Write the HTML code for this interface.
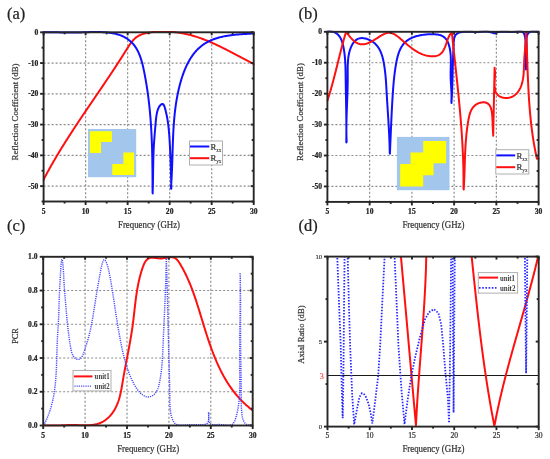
<!DOCTYPE html>
<html><head><meta charset="utf-8"><title>Figure</title>
<style>
html,body{margin:0;padding:0;background:#fff;}
body{width:550px;height:459px;overflow:hidden;}
svg{display:block;font-family:"Liberation Serif","Times New Roman",serif;}
</style></head><body>
<svg width="550" height="459" viewBox="0 0 550 459">
<rect width="550" height="459" fill="#fff"/>
<defs>
<clipPath id="ca"><rect x="42.6" y="31.099999999999998" width="212.1" height="171.39999999999998"/></clipPath>
<clipPath id="cb"><rect x="326.4" y="30.6" width="213.20000000000005" height="172.29999999999998"/></clipPath>
<clipPath id="cc"><rect x="42.2" y="255.60000000000002" width="211.5" height="170.89999999999998"/></clipPath>
<clipPath id="cd"><rect x="327.5" y="256.6" width="211.20000000000005" height="170.0"/></clipPath>
</defs>
<g stroke="#8a8a8a" stroke-width="1.15" stroke-dasharray="2 2"><line x1="85.62" y1="32.3" x2="85.62" y2="201.5"/><line x1="127.64" y1="32.3" x2="127.64" y2="201.5"/><line x1="169.66" y1="32.3" x2="169.66" y2="201.5"/><line x1="211.68" y1="32.3" x2="211.68" y2="201.5"/><line x1="43.6" y1="63.06" x2="253.7" y2="63.06"/><line x1="43.6" y1="93.83" x2="253.7" y2="93.83"/><line x1="43.6" y1="124.59" x2="253.7" y2="124.59"/><line x1="43.6" y1="155.35" x2="253.7" y2="155.35"/><line x1="43.6" y1="186.12" x2="253.7" y2="186.12"/></g>
<g fill="none" stroke-width="2" stroke-linejoin="round" stroke-linecap="round" clip-path="url(#ca)">
<path d="M43.60,180.30 L43.65,179.49 L44.02,178.77 L44.40,178.05 L44.78,177.34 L45.16,176.62 L45.54,175.91 L45.92,175.19 L46.30,174.48 L46.68,173.77 L47.07,173.06 L47.45,172.35 L47.84,171.64 L48.23,170.93 L48.62,170.22 L49.01,169.52 L49.40,168.81 L49.79,168.11 L50.18,167.40 L50.58,166.70 L50.98,166.00 L51.37,165.30 L51.77,164.60 L52.17,163.90 L52.57,163.20 L52.97,162.50 L53.37,161.80 L53.78,161.11 L54.18,160.41 L54.58,159.72 L54.99,159.02 L55.40,158.33 L55.81,157.64 L56.21,156.94 L56.62,156.25 L57.04,155.56 L57.45,154.87 L57.86,154.18 L58.27,153.49 L58.69,152.81 L59.10,152.12 L59.52,151.43 L59.94,150.75 L60.35,150.06 L60.77,149.38 L61.19,148.69 L61.61,148.01 L62.03,147.33 L62.46,146.64 L62.88,145.96 L63.30,145.28 L63.73,144.60 L64.15,143.92 L64.58,143.24 L65.00,142.56 L65.43,141.88 L65.86,141.20 L66.29,140.53 L66.72,139.85 L67.15,139.17 L67.58,138.50 L68.01,137.82 L68.44,137.14 L68.87,136.47 L69.31,135.79 L69.74,135.12 L70.17,134.45 L70.61,133.77 L71.04,133.10 L71.48,132.43 L71.92,131.76 L72.35,131.09 L72.79,130.41 L73.23,129.74 L73.67,129.07 L74.11,128.40 L74.55,127.73 L74.99,127.06 L75.43,126.39 L75.87,125.73 L76.31,125.06 L76.76,124.39 L77.20,123.72 L77.64,123.05 L78.09,122.39 L78.53,121.72 L78.97,121.05 L79.42,120.38 L79.86,119.72 L80.31,119.05 L80.76,118.39 L81.20,117.72 L81.65,117.05 L82.10,116.39 L82.54,115.72 L82.99,115.06 L83.44,114.39 L83.89,113.73 L84.34,113.06 L84.79,112.40 L85.23,111.73 L85.68,111.07 L86.13,110.40 L86.58,109.74 L87.03,109.08 L87.48,108.41 L87.93,107.75 L88.38,107.08 L88.84,106.42 L89.29,105.76 L89.74,105.09 L90.19,104.43 L90.64,103.77 L91.09,103.10 L91.54,102.44 L92.00,101.77 L92.45,101.11 L92.90,100.45 L93.35,99.78 L93.80,99.12 L94.26,98.45 L94.71,97.79 L95.16,97.13 L95.61,96.46 L96.07,95.80 L96.52,95.13 L96.97,94.47 L97.42,93.80 L97.88,93.14 L98.33,92.48 L98.78,91.81 L99.23,91.15 L99.68,90.48 L100.14,89.81 L100.59,89.15 L101.04,88.48 L101.49,87.82 L101.94,87.15 L102.40,86.48 L102.85,85.82 L103.30,85.15 L103.75,84.48 L104.20,83.82 L104.65,83.15 L105.10,82.48 L105.55,81.81 L106.00,81.14 L106.45,80.47 L106.90,79.81 L107.35,79.14 L107.80,78.47 L108.25,77.80 L108.70,77.13 L109.15,76.46 L109.60,75.78 L110.04,75.11 L110.49,74.44 L110.94,73.77 L111.39,73.10 L111.83,72.42 L112.28,71.75 L112.72,71.08 L113.17,70.40 L113.61,69.73 L114.06,69.05 L114.50,68.38 L114.95,67.70 L115.39,67.02 L115.83,66.35 L116.28,65.67 L116.72,64.99 L117.16,64.31 L117.60,63.63 L118.04,62.95 L118.48,62.27 L118.92,61.59 L119.36,60.91 L119.80,60.23 L120.24,59.55 L120.68,58.86 L121.11,58.18 L121.55,57.50 L121.99,56.81 L122.42,56.13 L122.86,55.44 L123.29,54.76 L123.73,54.07 L124.16,53.38 L124.59,52.69 L125.02,52.00 L125.45,51.31 L125.88,50.62 L126.31,49.93 L126.74,49.24 L127.18,48.55 L127.61,47.86 L128.04,47.18 L128.48,46.50 L128.92,45.83 L129.37,45.16 L129.82,44.50 L130.28,43.85 L130.74,43.21 L131.21,42.59 L131.69,41.97 L132.18,41.37 L132.68,40.78 L133.19,40.21 L133.71,39.65 L134.25,39.11 L134.80,38.59 L135.36,38.09 L135.93,37.61 L136.52,37.16 L137.13,36.72 L137.76,36.31 L138.40,35.93 L139.05,35.56 L139.73,35.23 L140.42,34.91 L141.12,34.61 L141.83,34.34 L142.56,34.08 L143.30,33.85 L144.05,33.63 L144.81,33.42 L145.58,33.24 L146.35,33.06 L147.14,32.91 L147.93,32.76 L148.72,32.63 L149.53,32.50 L150.33,32.39 L151.14,32.29 L151.95,32.20 L152.76,32.11 L153.58,32.03 L154.39,31.96 L155.21,31.89 L156.02,31.83 L156.84,31.78 L157.65,31.73 L158.47,31.69 L159.28,31.66 L160.10,31.63 L160.92,31.61 L161.73,31.59 L162.55,31.58 L163.36,31.58 L164.18,31.58 L164.99,31.59 L165.81,31.61 L166.62,31.63 L167.43,31.66 L168.25,31.69 L169.06,31.73 L169.87,31.78 L170.68,31.83 L171.49,31.89 L172.30,31.96 L173.11,32.03 L173.92,32.11 L174.72,32.19 L175.53,32.28 L176.33,32.37 L177.13,32.47 L177.93,32.58 L178.73,32.69 L179.53,32.81 L180.33,32.94 L181.12,33.07 L181.92,33.21 L182.71,33.35 L183.50,33.50 L184.29,33.65 L185.07,33.81 L185.86,33.98 L186.64,34.15 L187.42,34.33 L188.20,34.51 L188.98,34.70 L189.75,34.89 L190.52,35.09 L191.29,35.30 L192.06,35.51 L192.83,35.73 L193.60,35.95 L194.36,36.17 L195.12,36.40 L195.88,36.64 L196.64,36.88 L197.40,37.12 L198.16,37.37 L198.91,37.63 L199.66,37.89 L200.42,38.15 L201.17,38.42 L201.91,38.69 L202.66,38.96 L203.41,39.24 L204.15,39.53 L204.89,39.82 L205.63,40.11 L206.37,40.40 L207.11,40.70 L207.85,41.00 L208.59,41.31 L209.32,41.62 L210.06,41.93 L210.79,42.25 L211.52,42.56 L212.25,42.89 L212.99,43.21 L213.71,43.54 L214.44,43.87 L215.17,44.20 L215.90,44.54 L216.62,44.88 L217.35,45.22 L218.07,45.56 L218.79,45.91 L219.52,46.25 L220.24,46.60 L220.96,46.96 L221.68,47.31 L222.40,47.67 L223.12,48.03 L223.83,48.39 L224.55,48.75 L225.27,49.11 L225.99,49.47 L226.70,49.84 L227.42,50.21 L228.13,50.58 L228.85,50.95 L229.56,51.32 L230.28,51.69 L230.99,52.06 L231.70,52.44 L232.42,52.81 L233.13,53.18 L233.84,53.56 L234.56,53.94 L235.27,54.31 L235.98,54.69 L236.69,55.07 L237.41,55.45 L238.12,55.82 L238.83,56.20 L239.54,56.58 L240.25,56.96 L240.97,57.34 L241.68,57.71 L242.39,58.09 L243.10,58.47 L243.82,58.84 L244.53,59.22 L245.24,59.59 L245.96,59.97 L246.67,60.34 L247.39,60.71 L248.10,61.08 L248.82,61.45 L249.53,61.82 L250.25,62.19 L250.96,62.55 L251.68,62.92 L252.40,63.28 L253.12,63.64 L253.70,64.20" stroke="#ff1010"/>
<path d="M43.60,32.30 L44.40,32.20 L45.22,32.19 L46.03,32.18 L46.85,32.18 L47.66,32.18 L48.48,32.18 L49.29,32.19 L50.10,32.20 L50.91,32.20 L51.71,32.21 L52.52,32.23 L53.32,32.24 L54.13,32.26 L54.93,32.27 L55.73,32.29 L56.53,32.31 L57.33,32.32 L58.13,32.34 L58.93,32.36 L59.72,32.38 L60.52,32.40 L61.32,32.42 L62.11,32.44 L62.91,32.45 L63.70,32.47 L64.50,32.49 L65.30,32.50 L66.09,32.52 L66.89,32.53 L67.69,32.54 L68.48,32.55 L69.28,32.56 L70.08,32.57 L70.88,32.57 L71.67,32.57 L72.47,32.57 L73.27,32.57 L74.08,32.56 L74.88,32.56 L75.68,32.54 L76.49,32.53 L77.29,32.51 L78.10,32.49 L78.91,32.47 L79.72,32.44 L80.53,32.42 L81.34,32.39 L82.15,32.36 L82.96,32.33 L83.77,32.30 L84.58,32.27 L85.40,32.24 L86.21,32.21 L87.03,32.18 L87.84,32.15 L88.66,32.13 L89.47,32.10 L90.29,32.08 L91.11,32.06 L91.92,32.04 L92.74,32.02 L93.56,32.01 L94.38,31.99 L95.19,31.99 L96.01,31.98 L96.83,31.98 L97.64,31.99 L98.46,32.00 L99.28,32.01 L100.09,32.03 L100.91,32.06 L101.72,32.09 L102.54,32.13 L103.35,32.17 L104.17,32.22 L104.98,32.28 L105.79,32.35 L106.61,32.42 L107.42,32.50 L108.23,32.59 L109.04,32.68 L109.85,32.79 L110.65,32.90 L111.46,33.03 L112.26,33.16 L113.06,33.30 L113.85,33.46 L114.64,33.63 L115.43,33.81 L116.21,34.00 L116.99,34.20 L117.76,34.42 L118.52,34.65 L119.27,34.89 L120.02,35.15 L120.76,35.42 L121.49,35.71 L122.22,36.01 L122.93,36.33 L123.63,36.67 L124.33,37.02 L125.01,37.39 L125.68,37.78 L126.34,38.18 L126.99,38.60 L127.62,39.03 L128.25,39.48 L128.86,39.95 L129.46,40.42 L130.05,40.92 L130.62,41.42 L131.18,41.94 L131.73,42.48 L132.26,43.03 L132.78,43.59 L133.29,44.16 L133.78,44.75 L134.25,45.34 L134.71,45.95 L135.16,46.58 L135.59,47.21 L136.01,47.85 L136.41,48.51 L136.81,49.17 L137.19,49.85 L137.55,50.53 L137.91,51.22 L138.25,51.92 L138.58,52.63 L138.90,53.35 L139.21,54.08 L139.51,54.81 L139.80,55.55 L140.08,56.30 L140.35,57.06 L140.62,57.82 L140.87,58.58 L141.12,59.35 L141.35,60.13 L141.58,60.91 L141.81,61.70 L142.02,62.49 L142.23,63.28 L142.44,64.08 L142.64,64.88 L142.83,65.68 L143.02,66.49 L143.20,67.29 L143.38,68.10 L143.56,68.91 L143.73,69.72 L143.90,70.53 L144.06,71.35 L144.23,72.16 L144.39,72.97 L144.55,73.78 L144.70,74.59 L144.86,75.40 L145.01,76.21 L145.16,77.02 L145.31,77.83 L145.46,78.64 L145.60,79.44 L145.74,80.25 L145.88,81.06 L146.02,81.87 L146.16,82.67 L146.29,83.48 L146.43,84.28 L146.56,85.09 L146.69,85.89 L146.81,86.70 L146.94,87.50 L147.06,88.31 L147.18,89.11 L147.30,89.91 L147.42,90.72 L147.54,91.52 L147.65,92.32 L147.76,93.13 L147.87,93.93 L147.98,94.73 L148.09,95.53 L148.20,96.33 L148.30,97.13 L148.40,97.93 L148.50,98.73 L148.60,99.53 L148.70,100.33 L148.79,101.13 L148.89,101.93 L148.98,102.73 L149.07,103.53 L149.16,104.33 L149.25,105.13 L149.33,105.93 L149.42,106.73 L149.50,107.53 L149.58,108.33 L149.66,109.13 L149.74,109.92 L149.82,110.72 L149.89,111.52 L149.97,112.32 L150.04,113.12 L150.11,113.91 L150.18,114.71 L150.25,115.51 L150.32,116.31 L150.38,117.10 L150.45,117.90 L150.51,118.70 L150.57,119.49 L150.63,120.29 L150.69,121.09 L150.75,121.89 L150.81,122.68 L150.86,123.48 L150.92,124.28 L150.97,125.07 L151.02,125.87 L151.07,126.67 L151.12,127.47 L151.17,128.26 L151.22,129.06 L151.27,129.86 L151.31,130.66 L151.35,131.45 L151.40,132.25 L151.44,133.05 L151.48,133.85 L151.52,134.64 L151.56,135.44 L151.60,136.24 L151.63,137.04 L151.67,137.84 L151.70,138.64 L151.74,139.43 L151.77,140.23 L151.80,141.03 L151.83,141.83 L151.86,142.63 L151.89,143.43 L151.92,144.23 L151.95,145.03 L151.98,145.83 L152.00,146.63 L152.03,147.43 L152.05,148.23 L152.07,149.03 L152.10,149.83 L152.12,150.63 L152.14,151.43 L152.16,152.23 L152.18,153.04 L152.20,153.84 L152.22,154.64 L152.24,155.44 L152.25,156.25 L152.27,157.05 L152.29,157.85 L152.30,158.66 L152.32,159.46 L152.33,160.27 L152.34,161.07 L152.36,161.88 L152.37,162.68 L152.38,163.49 L152.39,164.29 L152.40,165.10 L152.41,165.91 L152.42,166.72 L152.43,167.52 L152.44,168.33 L152.45,169.14 L152.46,169.95 L152.46,170.76 L152.47,171.57 L152.48,172.38 L152.49,173.19 L152.49,174.00 L152.50,174.81 L152.50,175.62 L152.51,176.44 L152.51,177.25 L152.52,178.06 L152.52,178.88 L152.53,179.69 L152.53,180.51 L152.53,181.32 L152.54,182.14 L152.54,182.95 L152.54,183.77 L152.55,184.59 L152.55,185.41 L152.55,186.22 L152.55,187.04 L152.56,187.86 L152.56,188.68 L152.56,189.50 L152.56,190.33 L152.56,191.15 L152.57,191.97 L152.57,192.79 L152.70,193.40 L152.70,193.40 L152.67,192.47 L152.70,191.70 L152.72,190.92 L152.74,190.14 L152.77,189.36 L152.79,188.57 L152.81,187.79 L152.83,187.00 L152.85,186.20 L152.87,185.41 L152.88,184.61 L152.90,183.81 L152.92,183.01 L152.93,182.21 L152.95,181.40 L152.96,180.60 L152.97,179.79 L152.99,178.98 L153.00,178.17 L153.01,177.36 L153.02,176.54 L153.04,175.73 L153.05,174.92 L153.06,174.10 L153.07,173.28 L153.08,172.47 L153.09,171.65 L153.11,170.83 L153.12,170.01 L153.13,169.19 L153.14,168.37 L153.16,167.55 L153.17,166.73 L153.18,165.92 L153.20,165.10 L153.21,164.28 L153.23,163.46 L153.25,162.64 L153.26,161.83 L153.28,161.01 L153.30,160.19 L153.32,159.38 L153.34,158.57 L153.36,157.75 L153.39,156.94 L153.41,156.13 L153.44,155.32 L153.46,154.52 L153.49,153.71 L153.52,152.91 L153.55,152.11 L153.58,151.31 L153.62,150.51 L153.65,149.71 L153.69,148.92 L153.73,148.13 L153.77,147.34 L153.81,146.55 L153.86,145.77 L153.90,144.98 L153.95,144.20 L154.00,143.42 L154.05,142.64 L154.10,141.86 L154.16,141.09 L154.21,140.31 L154.27,139.53 L154.33,138.75 L154.38,137.97 L154.45,137.18 L154.51,136.40 L154.57,135.61 L154.63,134.82 L154.70,134.03 L154.76,133.23 L154.83,132.43 L154.90,131.63 L154.97,130.82 L155.04,130.01 L155.11,129.19 L155.18,128.37 L155.25,127.54 L155.32,126.70 L155.39,125.86 L155.46,125.01 L155.54,124.16 L155.61,123.30 L155.68,122.43 L155.76,121.56 L155.84,120.69 L155.93,119.82 L156.02,118.95 L156.12,118.09 L156.23,117.23 L156.34,116.38 L156.47,115.54 L156.60,114.71 L156.75,113.90 L156.91,113.10 L157.08,112.32 L157.27,111.55 L157.47,110.81 L157.69,110.09 L157.93,109.40 L158.19,108.73 L158.47,108.09 L158.77,107.48 L159.08,106.90 L159.43,106.36 L159.79,105.85 L160.19,105.38 L160.60,104.94 L161.04,104.56 L161.50,104.25 L161.96,104.05 L162.42,103.99 L162.86,104.09 L163.28,104.38 L163.67,104.84 L164.02,105.46 L164.35,106.21 L164.64,107.05 L164.91,107.95 L165.16,108.88 L165.40,109.80 L165.63,110.70 L165.84,111.58 L166.05,112.44 L166.24,113.28 L166.42,114.11 L166.60,114.93 L166.77,115.73 L166.93,116.52 L167.08,117.31 L167.22,118.09 L167.36,118.87 L167.50,119.65 L167.62,120.43 L167.75,121.21 L167.86,121.99 L167.98,122.78 L168.08,123.56 L168.19,124.35 L168.29,125.14 L168.38,125.94 L168.48,126.73 L168.57,127.53 L168.65,128.32 L168.73,129.12 L168.81,129.92 L168.89,130.72 L168.96,131.53 L169.03,132.33 L169.09,133.13 L169.16,133.94 L169.22,134.75 L169.28,135.55 L169.34,136.36 L169.39,137.17 L169.45,137.98 L169.50,138.79 L169.55,139.59 L169.60,140.40 L169.65,141.21 L169.70,142.02 L169.74,142.83 L169.79,143.64 L169.83,144.45 L169.88,145.25 L169.92,146.06 L169.97,146.87 L170.01,147.68 L170.05,148.48 L170.09,149.29 L170.13,150.10 L170.17,150.90 L170.21,151.71 L170.25,152.51 L170.28,153.32 L170.32,154.13 L170.36,154.93 L170.39,155.74 L170.43,156.54 L170.46,157.35 L170.49,158.16 L170.53,158.96 L170.56,159.77 L170.59,160.57 L170.62,161.38 L170.65,162.18 L170.68,162.99 L170.71,163.79 L170.73,164.60 L170.76,165.40 L170.79,166.21 L170.81,167.01 L170.84,167.82 L170.86,168.63 L170.89,169.43 L170.91,170.24 L170.93,171.04 L170.96,171.85 L170.98,172.65 L171.00,173.46 L171.02,174.27 L171.04,175.07 L171.05,175.88 L171.07,176.69 L171.09,177.49 L171.11,178.30 L171.12,179.11 L171.14,179.92 L171.15,180.72 L171.17,181.53 L171.18,182.34 L171.19,183.15 L171.21,183.96 L171.22,184.77 L171.23,185.57 L171.24,186.38 L171.25,187.19 L171.26,188.00 L171.30,188.80 L171.30,188.80 L170.89,187.99 L170.95,187.18 L171.02,186.38 L171.08,185.57 L171.14,184.77 L171.20,183.96 L171.26,183.16 L171.32,182.36 L171.37,181.55 L171.42,180.75 L171.47,179.94 L171.52,179.14 L171.57,178.33 L171.61,177.53 L171.66,176.72 L171.70,175.92 L171.74,175.11 L171.78,174.31 L171.82,173.50 L171.86,172.69 L171.89,171.89 L171.93,171.08 L171.96,170.28 L172.00,169.47 L172.03,168.67 L172.06,167.86 L172.09,167.06 L172.12,166.25 L172.15,165.45 L172.18,164.64 L172.21,163.83 L172.23,163.03 L172.26,162.22 L172.29,161.42 L172.31,160.61 L172.34,159.81 L172.36,159.00 L172.39,158.19 L172.41,157.39 L172.43,156.58 L172.46,155.78 L172.48,154.97 L172.51,154.17 L172.53,153.36 L172.55,152.56 L172.58,151.75 L172.60,150.95 L172.62,150.14 L172.65,149.34 L172.67,148.53 L172.70,147.73 L172.72,146.92 L172.75,146.12 L172.78,145.31 L172.80,144.51 L172.83,143.70 L172.86,142.90 L172.89,142.09 L172.91,141.29 L172.94,140.48 L172.98,139.68 L173.01,138.87 L173.04,138.07 L173.07,137.27 L173.11,136.46 L173.14,135.66 L173.18,134.85 L173.22,134.05 L173.26,133.25 L173.30,132.44 L173.34,131.64 L173.38,130.84 L173.43,130.04 L173.47,129.23 L173.52,128.43 L173.57,127.63 L173.62,126.82 L173.67,126.02 L173.73,125.22 L173.78,124.42 L173.84,123.62 L173.90,122.82 L173.96,122.01 L174.02,121.21 L174.09,120.41 L174.16,119.61 L174.22,118.81 L174.30,118.01 L174.37,117.21 L174.45,116.41 L174.52,115.61 L174.60,114.81 L174.69,114.01 L174.77,113.21 L174.86,112.41 L174.95,111.61 L175.04,110.81 L175.14,110.01 L175.24,109.22 L175.34,108.42 L175.44,107.62 L175.55,106.82 L175.66,106.02 L175.77,105.23 L175.89,104.43 L176.01,103.63 L176.13,102.84 L176.25,102.04 L176.38,101.24 L176.51,100.45 L176.65,99.65 L176.79,98.86 L176.93,98.06 L177.07,97.27 L177.22,96.47 L177.37,95.68 L177.53,94.89 L177.69,94.09 L177.85,93.30 L178.02,92.51 L178.19,91.71 L178.36,90.92 L178.54,90.13 L178.72,89.34 L178.91,88.54 L179.09,87.75 L179.29,86.96 L179.49,86.17 L179.69,85.38 L179.90,84.59 L180.11,83.80 L180.32,83.01 L180.54,82.22 L180.76,81.44 L180.99,80.65 L181.23,79.86 L181.46,79.08 L181.71,78.30 L181.96,77.52 L182.21,76.74 L182.47,75.96 L182.73,75.18 L183.00,74.41 L183.28,73.64 L183.56,72.88 L183.84,72.11 L184.14,71.35 L184.43,70.60 L184.74,69.84 L185.05,69.09 L185.36,68.35 L185.69,67.61 L186.02,66.87 L186.35,66.14 L186.70,65.41 L187.04,64.69 L187.40,63.97 L187.76,63.26 L188.13,62.55 L188.51,61.85 L188.89,61.15 L189.29,60.46 L189.68,59.78 L190.09,59.10 L190.51,58.43 L190.93,57.77 L191.36,57.11 L191.79,56.46 L192.24,55.82 L192.69,55.19 L193.15,54.56 L193.62,53.94 L194.10,53.33 L194.59,52.72 L195.09,52.13 L195.59,51.54 L196.10,50.97 L196.63,50.40 L197.16,49.84 L197.70,49.29 L198.25,48.75 L198.80,48.22 L199.37,47.70 L199.95,47.19 L200.54,46.69 L201.13,46.20 L201.74,45.72 L202.36,45.25 L202.98,44.79 L203.62,44.35 L204.26,43.91 L204.92,43.49 L205.59,43.08 L206.27,42.68 L206.95,42.29 L207.65,41.91 L208.36,41.55 L209.07,41.20 L209.80,40.85 L210.53,40.52 L211.27,40.20 L212.02,39.89 L212.78,39.59 L213.54,39.30 L214.31,39.02 L215.09,38.75 L215.87,38.49 L216.66,38.24 L217.45,38.00 L218.25,37.77 L219.05,37.55 L219.85,37.33 L220.66,37.13 L221.48,36.93 L222.29,36.74 L223.11,36.56 L223.94,36.39 L224.76,36.22 L225.59,36.06 L226.41,35.91 L227.24,35.77 L228.07,35.64 L228.90,35.51 L229.73,35.39 L230.56,35.27 L231.39,35.16 L232.21,35.06 L233.04,34.96 L233.87,34.87 L234.69,34.78 L235.51,34.70 L236.33,34.62 L237.15,34.55 L237.97,34.47 L238.78,34.41 L239.59,34.34 L240.39,34.28 L241.19,34.23 L241.99,34.17 L242.78,34.12 L243.57,34.07 L244.36,34.02 L245.14,33.97 L245.91,33.93 L246.68,33.88 L247.44,33.84 L248.19,33.79 L248.94,33.75 L249.68,33.70 L250.42,33.66 L251.15,33.61 L251.87,33.57 L252.58,33.52 L253.70,33.30" stroke="#1010ff"/>
</g>
<rect x="88" y="129" width="48.2" height="48.2" fill="#a2c6ec"/>
<path d="M89.9,131.3 H111.9 V142 H101 V153 H89.9 Z M123.4,152.6 H134.1 V175 H112.3 V164.1 H123.4 Z" fill="#ffff00"/>
<rect x="189.5" y="141" width="33" height="24" fill="#fff" stroke="#b0b0b0" stroke-width="1"/>
<line x1="190" y1="146.5" x2="209.3" y2="146.5" stroke="#1010ff" stroke-width="2"/>
<line x1="190" y1="158.2" x2="209.3" y2="158.2" stroke="#ff1010" stroke-width="2"/>
<text x="210.5" y="149.8" font-size="8.6" fill="#333" stroke="#333" stroke-width="0.22">R<tspan font-size="5.1" dy="1.9" stroke-width="0.08">xx</tspan></text>
<text x="210.5" y="161.3" font-size="8.6" fill="#333" stroke="#333" stroke-width="0.22">R<tspan font-size="5.1" dy="1.9" stroke-width="0.08">yx</tspan></text>
<g stroke="#262626" stroke-width="1.9" fill="none"><rect x="43.6" y="32.3" width="210.1" height="169.2" fill="none"/><line x1="43.6" y1="201.5" x2="43.6" y2="205"/><line x1="43.6" y1="32.3" x2="43.6" y2="35.3"/><line x1="85.62" y1="201.5" x2="85.62" y2="205"/><line x1="85.62" y1="32.3" x2="85.62" y2="35.3"/><line x1="127.64" y1="201.5" x2="127.64" y2="205"/><line x1="127.64" y1="32.3" x2="127.64" y2="35.3"/><line x1="169.66" y1="201.5" x2="169.66" y2="205"/><line x1="169.66" y1="32.3" x2="169.66" y2="35.3"/><line x1="211.68" y1="201.5" x2="211.68" y2="205"/><line x1="211.68" y1="32.3" x2="211.68" y2="35.3"/><line x1="253.7" y1="201.5" x2="253.7" y2="205"/><line x1="253.7" y1="32.3" x2="253.7" y2="35.3"/><line x1="64.61" y1="201.5" x2="64.61" y2="203.5"/><line x1="64.61" y1="32.3" x2="64.61" y2="34.3"/><line x1="106.63" y1="201.5" x2="106.63" y2="203.5"/><line x1="106.63" y1="32.3" x2="106.63" y2="34.3"/><line x1="148.65" y1="201.5" x2="148.65" y2="203.5"/><line x1="148.65" y1="32.3" x2="148.65" y2="34.3"/><line x1="190.67" y1="201.5" x2="190.67" y2="203.5"/><line x1="190.67" y1="32.3" x2="190.67" y2="34.3"/><line x1="232.69" y1="201.5" x2="232.69" y2="203.5"/><line x1="232.69" y1="32.3" x2="232.69" y2="34.3"/><line x1="40.1" y1="32.3" x2="43.6" y2="32.3"/><line x1="253.7" y1="32.3" x2="250.7" y2="32.3"/><line x1="40.1" y1="63.06" x2="43.6" y2="63.06"/><line x1="253.7" y1="63.06" x2="250.7" y2="63.06"/><line x1="40.1" y1="93.83" x2="43.6" y2="93.83"/><line x1="253.7" y1="93.83" x2="250.7" y2="93.83"/><line x1="40.1" y1="124.59" x2="43.6" y2="124.59"/><line x1="253.7" y1="124.59" x2="250.7" y2="124.59"/><line x1="40.1" y1="155.35" x2="43.6" y2="155.35"/><line x1="253.7" y1="155.35" x2="250.7" y2="155.35"/><line x1="40.1" y1="186.12" x2="43.6" y2="186.12"/><line x1="253.7" y1="186.12" x2="250.7" y2="186.12"/><line x1="41.6" y1="47.68" x2="43.6" y2="47.68"/><line x1="253.7" y1="47.68" x2="251.7" y2="47.68"/><line x1="41.6" y1="78.45" x2="43.6" y2="78.45"/><line x1="253.7" y1="78.45" x2="251.7" y2="78.45"/><line x1="41.6" y1="109.21" x2="43.6" y2="109.21"/><line x1="253.7" y1="109.21" x2="251.7" y2="109.21"/><line x1="41.6" y1="139.97" x2="43.6" y2="139.97"/><line x1="253.7" y1="139.97" x2="251.7" y2="139.97"/><line x1="41.6" y1="170.74" x2="43.6" y2="170.74"/><line x1="253.7" y1="170.74" x2="251.7" y2="170.74"/><line x1="41.6" y1="201.5" x2="43.6" y2="201.5"/><line x1="253.7" y1="201.5" x2="251.7" y2="201.5"/></g>
<text x="38.3" y="34.9" font-size="7.6" text-anchor="end" font-weight="bold" fill="#222"  stroke="#222" stroke-width="0.22">0</text>
<text x="38.3" y="65.66" font-size="7.6" text-anchor="end" font-weight="bold" fill="#222"  stroke="#222" stroke-width="0.22">-10</text>
<text x="38.3" y="96.43" font-size="7.6" text-anchor="end" font-weight="bold" fill="#222"  stroke="#222" stroke-width="0.22">-20</text>
<text x="38.3" y="127.19" font-size="7.6" text-anchor="end" font-weight="bold" fill="#222"  stroke="#222" stroke-width="0.22">-30</text>
<text x="38.3" y="157.95" font-size="7.6" text-anchor="end" font-weight="bold" fill="#222"  stroke="#222" stroke-width="0.22">-40</text>
<text x="38.3" y="188.72" font-size="7.6" text-anchor="end" font-weight="bold" fill="#222"  stroke="#222" stroke-width="0.22">-50</text>
<text x="43.6" y="213.6" font-size="7.6" text-anchor="middle" font-weight="bold" fill="#222"  stroke="#222" stroke-width="0.22">5</text>
<text x="85.62" y="213.6" font-size="7.6" text-anchor="middle" font-weight="bold" fill="#222"  stroke="#222" stroke-width="0.22">10</text>
<text x="127.64" y="213.6" font-size="7.6" text-anchor="middle" font-weight="bold" fill="#222"  stroke="#222" stroke-width="0.22">15</text>
<text x="169.66" y="213.6" font-size="7.6" text-anchor="middle" font-weight="bold" fill="#222"  stroke="#222" stroke-width="0.22">20</text>
<text x="211.68" y="213.6" font-size="7.6" text-anchor="middle" font-weight="bold" fill="#222"  stroke="#222" stroke-width="0.22">25</text>
<text x="253.7" y="213.6" font-size="7.6" text-anchor="middle" font-weight="bold" fill="#222"  stroke="#222" stroke-width="0.22">30</text>
<text x="149" y="228.2" font-size="9.6" text-anchor="middle" font-weight="normal" fill="#333" textLength="62" lengthAdjust="spacingAndGlyphs" stroke="#333" stroke-width="0.22">Frequency (GHz)</text>
<text transform="translate(18.1,112) rotate(-90)" x="0" y="0" font-size="9.1" text-anchor="middle" fill="#333" textLength="97" lengthAdjust="spacingAndGlyphs" stroke="#333" stroke-width="0.22">Reflection Coefficient (dB)</text>
<text x="7" y="18.5" font-size="16.5" text-anchor="start" font-weight="normal" fill="#222"  stroke="#222" stroke-width="0.22">(a)</text>
<g stroke="#8a8a8a" stroke-width="1.15" stroke-dasharray="2 2"><line x1="369.64" y1="31.8" x2="369.64" y2="201.9"/><line x1="411.88" y1="31.8" x2="411.88" y2="201.9"/><line x1="454.12" y1="31.8" x2="454.12" y2="201.9"/><line x1="496.36" y1="31.8" x2="496.36" y2="201.9"/><line x1="327.4" y1="62.73" x2="538.6" y2="62.73"/><line x1="327.4" y1="93.65" x2="538.6" y2="93.65"/><line x1="327.4" y1="124.58" x2="538.6" y2="124.58"/><line x1="327.4" y1="155.51" x2="538.6" y2="155.51"/><line x1="327.4" y1="186.44" x2="538.6" y2="186.44"/></g>
<g fill="none" stroke-width="2" stroke-linejoin="round" stroke-linecap="round" clip-path="url(#cb)">
<path d="M327.40,31.80 L328.29,31.19 L329.25,31.20 L330.17,31.25 L331.05,31.35 L331.89,31.50 L332.69,31.68 L333.46,31.91 L334.18,32.18 L334.87,32.48 L335.53,32.82 L336.15,33.20 L336.74,33.61 L337.30,34.05 L337.83,34.52 L338.33,35.02 L338.80,35.55 L339.25,36.11 L339.67,36.69 L340.06,37.30 L340.43,37.93 L340.78,38.58 L341.10,39.26 L341.41,39.95 L341.70,40.65 L341.96,41.38 L342.21,42.11 L342.44,42.86 L342.66,43.63 L342.86,44.40 L343.05,45.18 L343.23,45.97 L343.40,46.77 L343.56,47.57 L343.70,48.37 L343.84,49.18 L343.97,49.99 L344.10,50.80 L344.22,51.60 L344.33,52.42 L344.43,53.23 L344.53,54.04 L344.63,54.85 L344.72,55.67 L344.80,56.48 L344.87,57.30 L344.95,58.11 L345.01,58.93 L345.07,59.75 L345.13,60.56 L345.19,61.38 L345.23,62.20 L345.28,63.02 L345.32,63.84 L345.36,64.66 L345.39,65.48 L345.43,66.30 L345.45,67.12 L345.48,67.93 L345.50,68.75 L345.53,69.57 L345.55,70.39 L345.56,71.21 L345.58,72.03 L345.59,72.85 L345.61,73.67 L345.62,74.49 L345.63,75.30 L345.64,76.12 L345.65,76.94 L345.66,77.75 L345.67,78.57 L345.68,79.38 L345.69,80.20 L345.70,81.01 L345.71,81.82 L345.73,82.63 L345.74,83.45 L345.75,84.26 L345.76,85.07 L345.78,85.88 L345.79,86.68 L345.80,87.49 L345.82,88.30 L345.83,89.11 L345.84,89.92 L345.86,90.72 L345.87,91.53 L345.89,92.33 L345.90,93.14 L345.92,93.94 L345.93,94.75 L345.95,95.55 L345.96,96.36 L345.98,97.16 L345.99,97.97 L346.01,98.77 L346.02,99.57 L346.04,100.38 L346.05,101.18 L346.06,101.98 L346.08,102.78 L346.09,103.59 L346.11,104.39 L346.12,105.19 L346.14,106.00 L346.15,106.80 L346.16,107.60 L346.18,108.41 L346.19,109.21 L346.20,110.01 L346.22,110.82 L346.23,111.62 L346.24,112.42 L346.25,113.23 L346.26,114.03 L346.27,114.84 L346.28,115.64 L346.29,116.45 L346.30,117.25 L346.31,118.06 L346.32,118.86 L346.33,119.67 L346.34,120.48 L346.35,121.28 L346.35,122.09 L346.36,122.90 L346.36,123.71 L346.37,124.52 L346.37,125.33 L346.38,126.14 L346.38,126.95 L346.38,127.76 L346.38,128.58 L346.38,129.39 L346.38,130.20 L346.38,131.02 L346.38,131.84 L346.38,132.65 L346.38,133.47 L346.37,134.29 L346.37,135.11 L346.36,135.93 L346.36,136.75 L346.35,137.57 L346.34,138.39 L346.33,139.21 L346.32,140.04 L346.31,140.86 L346.30,141.69 L346.40,142.40 L346.40,142.40 L346.66,141.76 L346.62,140.93 L346.59,140.10 L346.56,139.27 L346.53,138.44 L346.51,137.61 L346.49,136.79 L346.47,135.97 L346.45,135.15 L346.44,134.33 L346.42,133.51 L346.41,132.69 L346.41,131.88 L346.40,131.06 L346.40,130.25 L346.39,129.44 L346.39,128.63 L346.40,127.82 L346.40,127.01 L346.41,126.20 L346.41,125.40 L346.42,124.59 L346.43,123.79 L346.45,122.99 L346.46,122.19 L346.47,121.39 L346.49,120.59 L346.51,119.79 L346.53,118.99 L346.55,118.19 L346.57,117.39 L346.59,116.60 L346.62,115.80 L346.64,115.00 L346.66,114.21 L346.69,113.42 L346.72,112.62 L346.75,111.83 L346.77,111.03 L346.80,110.24 L346.83,109.45 L346.86,108.65 L346.89,107.86 L346.92,107.07 L346.95,106.28 L346.98,105.48 L347.01,104.69 L347.04,103.90 L347.08,103.10 L347.11,102.31 L347.14,101.52 L347.17,100.72 L347.20,99.93 L347.23,99.13 L347.26,98.34 L347.29,97.54 L347.32,96.75 L347.35,95.95 L347.37,95.15 L347.40,94.36 L347.43,93.56 L347.46,92.76 L347.48,91.96 L347.50,91.16 L347.53,90.36 L347.55,89.55 L347.57,88.75 L347.59,87.95 L347.61,87.14 L347.63,86.34 L347.65,85.53 L347.66,84.72 L347.67,83.91 L347.69,83.10 L347.70,82.29 L347.71,81.47 L347.71,80.66 L347.72,79.84 L347.72,79.02 L347.73,78.20 L347.73,77.38 L347.73,76.56 L347.72,75.74 L347.72,74.91 L347.71,74.08 L347.71,73.26 L347.70,72.43 L347.70,71.60 L347.70,70.77 L347.70,69.95 L347.70,69.12 L347.71,68.29 L347.72,67.47 L347.73,66.64 L347.75,65.82 L347.77,65.00 L347.80,64.18 L347.84,63.36 L347.88,62.55 L347.93,61.73 L347.99,60.92 L348.06,60.12 L348.13,59.31 L348.22,58.52 L348.32,57.72 L348.42,56.93 L348.54,56.14 L348.67,55.36 L348.81,54.58 L348.97,53.81 L349.13,53.04 L349.32,52.28 L349.51,51.52 L349.72,50.77 L349.95,50.03 L350.19,49.29 L350.45,48.56 L350.73,47.83 L351.02,47.12 L351.34,46.41 L351.67,45.71 L352.02,45.03 L352.39,44.36 L352.78,43.71 L353.19,43.08 L353.63,42.47 L354.08,41.89 L354.56,41.35 L355.07,40.83 L355.60,40.35 L356.15,39.91 L356.73,39.52 L357.34,39.16 L357.97,38.85 L358.63,38.59 L359.32,38.39 L360.04,38.24 L360.78,38.14 L361.55,38.10 L362.33,38.10 L363.13,38.16 L363.94,38.26 L364.77,38.40 L365.59,38.59 L366.42,38.81 L367.24,39.07 L368.06,39.37 L368.87,39.70 L369.67,40.06 L370.45,40.45 L371.21,40.87 L371.95,41.31 L372.65,41.77 L373.33,42.25 L373.99,42.76 L374.61,43.28 L375.21,43.82 L375.78,44.38 L376.32,44.96 L376.84,45.56 L377.34,46.17 L377.81,46.79 L378.26,47.44 L378.69,48.09 L379.10,48.76 L379.48,49.44 L379.85,50.14 L380.20,50.84 L380.53,51.56 L380.85,52.28 L381.14,53.02 L381.42,53.77 L381.69,54.52 L381.94,55.28 L382.18,56.05 L382.40,56.82 L382.62,57.60 L382.82,58.38 L383.01,59.17 L383.19,59.96 L383.36,60.76 L383.52,61.55 L383.68,62.35 L383.83,63.15 L383.97,63.95 L384.11,64.75 L384.24,65.55 L384.37,66.35 L384.49,67.15 L384.60,67.95 L384.72,68.74 L384.82,69.54 L384.92,70.34 L385.02,71.14 L385.12,71.94 L385.20,72.74 L385.29,73.54 L385.37,74.33 L385.45,75.13 L385.53,75.93 L385.60,76.73 L385.67,77.53 L385.73,78.33 L385.80,79.13 L385.86,79.92 L385.92,80.72 L385.98,81.52 L386.03,82.32 L386.08,83.12 L386.14,83.92 L386.19,84.72 L386.23,85.51 L386.28,86.31 L386.33,87.11 L386.37,87.91 L386.42,88.71 L386.47,89.51 L386.51,90.31 L386.55,91.11 L386.60,91.91 L386.64,92.71 L386.69,93.51 L386.73,94.31 L386.78,95.11 L386.83,95.91 L386.88,96.71 L386.92,97.51 L386.97,98.31 L387.02,99.12 L387.07,99.92 L387.12,100.72 L387.17,101.52 L387.22,102.32 L387.27,103.12 L387.32,103.93 L387.37,104.73 L387.42,105.53 L387.47,106.33 L387.52,107.14 L387.58,107.94 L387.63,108.74 L387.68,109.54 L387.73,110.35 L387.78,111.15 L387.83,111.95 L387.89,112.75 L387.94,113.56 L387.99,114.36 L388.04,115.16 L388.09,115.97 L388.14,116.77 L388.19,117.57 L388.24,118.38 L388.29,119.18 L388.34,119.98 L388.39,120.79 L388.44,121.59 L388.49,122.39 L388.54,123.20 L388.58,124.00 L388.63,124.80 L388.68,125.61 L388.72,126.41 L388.77,127.21 L388.81,128.02 L388.86,128.82 L388.90,129.62 L388.95,130.43 L388.99,131.23 L389.03,132.03 L389.07,132.84 L389.11,133.64 L389.15,134.44 L389.19,135.25 L389.22,136.05 L389.26,136.85 L389.30,137.65 L389.33,138.46 L389.36,139.26 L389.40,140.06 L389.43,140.86 L389.46,141.67 L389.49,142.47 L389.52,143.27 L389.54,144.07 L389.57,144.87 L389.59,145.68 L389.62,146.48 L389.64,147.28 L389.66,148.08 L389.68,148.88 L389.69,149.68 L389.71,150.48 L389.73,151.28 L389.74,152.08 L389.75,152.88 L389.90,153.70 L389.90,153.70 L389.95,152.84 L389.98,152.05 L390.02,151.25 L390.05,150.46 L390.08,149.66 L390.12,148.87 L390.15,148.07 L390.18,147.28 L390.22,146.48 L390.25,145.68 L390.29,144.88 L390.32,144.08 L390.35,143.28 L390.39,142.48 L390.42,141.68 L390.45,140.88 L390.49,140.07 L390.52,139.27 L390.55,138.47 L390.59,137.66 L390.62,136.86 L390.65,136.05 L390.69,135.25 L390.72,134.44 L390.75,133.64 L390.79,132.83 L390.82,132.03 L390.86,131.22 L390.89,130.41 L390.93,129.60 L390.96,128.80 L391.00,127.99 L391.03,127.18 L391.07,126.37 L391.10,125.57 L391.14,124.76 L391.17,123.95 L391.21,123.14 L391.25,122.33 L391.28,121.52 L391.32,120.72 L391.36,119.91 L391.39,119.10 L391.43,118.29 L391.47,117.48 L391.51,116.68 L391.55,115.87 L391.59,115.06 L391.62,114.25 L391.66,113.45 L391.70,112.64 L391.75,111.83 L391.79,111.03 L391.83,110.22 L391.87,109.41 L391.91,108.61 L391.95,107.80 L392.00,107.00 L392.04,106.19 L392.08,105.39 L392.13,104.59 L392.17,103.78 L392.22,102.98 L392.27,102.18 L392.31,101.38 L392.36,100.58 L392.41,99.78 L392.45,98.98 L392.50,98.18 L392.55,97.38 L392.60,96.58 L392.65,95.79 L392.70,94.99 L392.76,94.19 L392.81,93.40 L392.86,92.61 L392.92,91.81 L392.97,91.02 L393.03,90.22 L393.09,89.43 L393.14,88.64 L393.20,87.85 L393.27,87.05 L393.33,86.26 L393.39,85.47 L393.46,84.67 L393.53,83.88 L393.60,83.09 L393.67,82.29 L393.75,81.50 L393.82,80.70 L393.90,79.91 L393.98,79.11 L394.07,78.32 L394.15,77.52 L394.24,76.72 L394.33,75.92 L394.43,75.12 L394.52,74.32 L394.62,73.52 L394.73,72.72 L394.83,71.91 L394.94,71.11 L395.05,70.30 L395.17,69.49 L395.29,68.68 L395.41,67.87 L395.54,67.06 L395.67,66.24 L395.80,65.43 L395.94,64.61 L396.08,63.79 L396.23,62.97 L396.38,62.15 L396.54,61.34 L396.70,60.52 L396.88,59.71 L397.06,58.90 L397.25,58.10 L397.45,57.30 L397.65,56.50 L397.87,55.71 L398.10,54.93 L398.34,54.16 L398.59,53.39 L398.86,52.63 L399.13,51.88 L399.42,51.14 L399.73,50.42 L400.04,49.70 L400.38,48.99 L400.73,48.30 L401.09,47.62 L401.47,46.96 L401.87,46.31 L402.29,45.68 L402.72,45.06 L403.17,44.46 L403.64,43.87 L404.14,43.31 L404.65,42.76 L405.18,42.23 L405.73,41.73 L406.31,41.24 L406.90,40.77 L407.52,40.32 L408.15,39.89 L408.79,39.48 L409.46,39.08 L410.14,38.71 L410.84,38.35 L411.55,38.00 L412.27,37.68 L413.01,37.37 L413.76,37.08 L414.52,36.80 L415.30,36.54 L416.08,36.30 L416.87,36.07 L417.68,35.85 L418.49,35.65 L419.30,35.47 L420.13,35.30 L420.96,35.14 L421.80,35.00 L422.64,34.87 L423.48,34.75 L424.33,34.64 L425.18,34.55 L426.04,34.47 L426.89,34.40 L427.75,34.34 L428.60,34.30 L429.45,34.26 L430.31,34.24 L431.16,34.23 L432.00,34.22 L432.85,34.23 L433.68,34.25 L434.51,34.28 L435.33,34.33 L436.14,34.40 L436.94,34.48 L437.72,34.59 L438.49,34.73 L439.23,34.89 L439.96,35.08 L440.67,35.30 L441.35,35.55 L442.01,35.83 L442.64,36.16 L443.24,36.52 L443.82,36.92 L444.36,37.36 L444.87,37.84 L445.36,38.35 L445.81,38.89 L446.25,39.46 L446.65,40.07 L447.03,40.69 L447.39,41.35 L447.73,42.02 L448.04,42.72 L448.33,43.43 L448.60,44.16 L448.85,44.90 L449.08,45.65 L449.29,46.41 L449.49,47.18 L449.67,47.95 L449.83,48.73 L449.98,49.52 L450.12,50.31 L450.24,51.10 L450.35,51.90 L450.44,52.71 L450.53,53.51 L450.60,54.32 L450.66,55.13 L450.71,55.95 L450.75,56.77 L450.79,57.59 L450.81,58.41 L450.83,59.24 L450.84,60.07 L450.85,60.89 L450.85,61.72 L450.84,62.55 L450.83,63.38 L450.82,64.21 L450.80,65.05 L450.78,65.88 L450.77,66.71 L450.74,67.54 L450.72,68.37 L450.70,69.19 L450.68,70.02 L450.67,70.84 L450.65,71.66 L450.64,72.48 L450.63,73.30 L450.62,74.12 L450.62,74.93 L450.63,75.74 L450.64,76.54 L450.65,77.34 L450.68,78.14 L450.70,78.93 L450.73,79.73 L450.77,80.52 L450.81,81.30 L450.85,82.09 L450.89,82.88 L450.94,83.66 L450.98,84.45 L451.03,85.23 L451.08,86.01 L451.13,86.80 L451.17,87.58 L451.22,88.37 L451.27,89.16 L451.31,89.95 L451.35,90.74 L451.39,91.53 L451.42,92.32 L451.45,93.12 L451.47,93.92 L451.49,94.73 L451.51,95.54 L451.52,96.35 L451.52,97.17 L451.52,97.99 L451.50,98.82 L451.48,99.65 L451.46,100.49 L451.42,101.33 L451.37,102.18 L451.50,102.90 L451.50,102.90 L451.48,102.06 L451.54,101.26 L451.59,100.47 L451.64,99.68 L451.69,98.88 L451.73,98.09 L451.78,97.29 L451.82,96.49 L451.86,95.69 L451.90,94.89 L451.94,94.09 L451.98,93.29 L452.02,92.48 L452.05,91.68 L452.08,90.88 L452.12,90.07 L452.15,89.27 L452.18,88.46 L452.21,87.65 L452.24,86.85 L452.27,86.04 L452.29,85.23 L452.32,84.42 L452.34,83.61 L452.37,82.81 L452.39,82.00 L452.42,81.19 L452.44,80.38 L452.46,79.57 L452.48,78.76 L452.51,77.95 L452.53,77.14 L452.55,76.33 L452.57,75.53 L452.59,74.72 L452.61,73.91 L452.63,73.10 L452.65,72.29 L452.67,71.49 L452.69,70.68 L452.71,69.87 L452.73,69.07 L452.75,68.26 L452.77,67.46 L452.79,66.66 L452.81,65.85 L452.84,65.05 L452.86,64.25 L452.88,63.45 L452.90,62.65 L452.93,61.85 L452.95,61.06 L452.98,60.26 L453.00,59.47 L453.03,58.67 L453.06,57.88 L453.08,57.09 L453.11,56.30 L453.14,55.51 L453.17,54.72 L453.21,53.93 L453.24,53.14 L453.27,52.35 L453.30,51.55 L453.34,50.76 L453.37,49.95 L453.40,49.15 L453.44,48.33 L453.47,47.51 L453.50,46.69 L453.54,45.85 L453.57,45.01 L453.60,44.16 L453.64,43.30 L453.68,42.44 L453.74,41.59 L453.82,40.74 L453.92,39.91 L454.05,39.10 L454.21,38.32 L454.41,37.56 L454.65,36.84 L454.94,36.16 L455.29,35.53 L455.69,34.94 L456.16,34.41 L456.69,33.94 L457.28,33.53 L457.93,33.16 L458.62,32.85 L459.35,32.58 L460.12,32.35 L460.91,32.17 L461.73,32.01 L462.56,31.90 L463.40,31.80 L464.24,31.74 L465.08,31.70 L465.91,31.67 L466.72,31.67 L467.53,31.67 L468.34,31.69 L469.13,31.72 L469.92,31.75 L470.71,31.79 L471.50,31.83 L472.29,31.87 L473.07,31.91 L473.86,31.94 L474.65,31.97 L475.44,31.98 L476.24,31.98 L477.04,31.97 L477.85,31.94 L478.67,31.90 L479.49,31.84 L480.32,31.78 L481.14,31.72 L481.97,31.65 L482.80,31.59 L483.63,31.55 L484.45,31.51 L485.27,31.50 L486.08,31.50 L486.89,31.53 L487.69,31.59 L488.47,31.69 L489.25,31.82 L490.01,31.99 L490.76,32.20 L491.47,32.43 L492.15,32.66 L492.78,32.87 L493.35,33.06 L493.85,33.20 L494.28,33.27 L494.71,33.21 L495.20,33.00 L495.73,32.76 L496.29,32.55 L496.88,32.37 L497.50,32.22 L498.14,32.09 L498.81,31.99 L499.49,31.91 L500.20,31.84 L500.93,31.80 L501.68,31.77 L502.45,31.75 L503.23,31.75 L504.03,31.75 L504.84,31.76 L505.66,31.78 L506.49,31.81 L507.34,31.83 L508.19,31.85 L509.04,31.88 L509.91,31.90 L510.77,31.91 L511.64,31.91 L512.51,31.91 L513.39,31.89 L514.26,31.86 L515.12,31.82 L515.99,31.76 L516.84,31.68 L517.69,31.59 L518.52,31.50 L519.32,31.44 L520.09,31.43 L520.82,31.46 L521.50,31.57 L522.12,31.76 L522.68,32.06 L523.16,32.48 L523.59,33.00 L523.95,33.60 L524.26,34.27 L524.52,34.99 L524.74,35.73 L524.93,36.48 L525.09,37.25 L525.21,38.03 L525.31,38.82 L525.39,39.62 L525.45,40.42 L525.49,41.23 L525.51,42.05 L525.52,42.87 L525.52,43.69 L525.52,44.51 L525.51,45.34 L525.50,46.16 L525.49,46.99 L525.48,47.81 L525.48,48.62 L525.49,49.43 L525.50,50.24 L525.52,51.05 L525.54,51.85 L525.56,52.66 L525.59,53.46 L525.61,54.25 L525.64,55.05 L525.68,55.85 L525.71,56.64 L525.74,57.44 L525.77,58.23 L525.81,59.03 L525.84,59.83 L525.87,60.62 L525.89,61.42 L525.92,62.22 L525.94,63.02 L525.95,63.83 L525.97,64.63 L525.98,65.44 L525.98,66.25 L525.98,67.07 L525.97,67.89 L525.95,68.71 L526.00,69.50 L526.00,69.50 L526.07,68.75 L526.04,67.87 L526.02,67.01 L526.01,66.17 L526.01,65.32 L526.01,64.49 L526.02,63.67 L526.04,62.85 L526.06,62.04 L526.08,61.24 L526.11,60.44 L526.14,59.64 L526.17,58.85 L526.21,58.06 L526.25,57.27 L526.28,56.48 L526.32,55.69 L526.36,54.90 L526.40,54.11 L526.43,53.31 L526.47,52.52 L526.50,51.71 L526.53,50.91 L526.55,50.10 L526.57,49.28 L526.58,48.45 L526.59,47.62 L526.59,46.78 L526.59,45.92 L526.58,45.06 L526.56,44.19 L526.54,43.31 L526.52,42.43 L526.50,41.55 L526.50,40.68 L526.51,39.82 L526.55,38.97 L526.61,38.15 L526.70,37.35 L526.83,36.58 L526.99,35.85 L527.21,35.16 L527.47,34.51 L527.79,33.91 L528.17,33.37 L528.61,32.88 L529.12,32.46 L529.69,32.10 L530.33,31.82 L531.03,31.62 L531.80,31.51 L532.62,31.47 L533.48,31.49 L534.37,31.56 L535.28,31.66 L536.17,31.76 L537.05,31.85 L537.88,31.89 L538.60,31.80" stroke="#1010ff"/>
<path d="M327.40,100.60 L327.66,99.82 L327.91,99.05 L328.17,98.27 L328.41,97.49 L328.66,96.71 L328.90,95.93 L329.14,95.14 L329.38,94.36 L329.62,93.58 L329.86,92.80 L330.09,92.01 L330.32,91.23 L330.55,90.44 L330.78,89.66 L331.00,88.87 L331.23,88.08 L331.45,87.30 L331.67,86.51 L331.89,85.72 L332.11,84.94 L332.33,84.15 L332.54,83.36 L332.76,82.57 L332.97,81.78 L333.18,80.99 L333.39,80.20 L333.60,79.41 L333.81,78.62 L334.02,77.83 L334.22,77.04 L334.43,76.24 L334.63,75.45 L334.84,74.66 L335.04,73.87 L335.24,73.08 L335.44,72.28 L335.64,71.49 L335.85,70.70 L336.04,69.91 L336.24,69.11 L336.44,68.32 L336.64,67.53 L336.84,66.73 L337.04,65.94 L337.24,65.14 L337.43,64.35 L337.63,63.56 L337.83,62.76 L338.03,61.97 L338.22,61.18 L338.42,60.38 L338.62,59.59 L338.82,58.79 L339.02,58.00 L339.21,57.21 L339.41,56.41 L339.61,55.62 L339.81,54.83 L340.01,54.03 L340.21,53.24 L340.41,52.45 L340.61,51.66 L340.82,50.86 L341.02,50.07 L341.22,49.28 L341.43,48.49 L341.64,47.69 L341.84,46.90 L342.05,46.11 L342.26,45.32 L342.47,44.53 L342.68,43.74 L342.89,42.95 L343.11,42.16 L343.32,41.37 L343.54,40.58 L343.75,39.79 L343.97,39.01 L344.19,38.22 L344.42,37.43 L344.64,36.64 L344.86,35.86 L345.09,35.07 L345.32,34.28 L345.55,33.50 L345.78,32.71 L345.90,31.90 L345.90,31.90 L346.46,32.49 L346.90,33.03 L347.37,33.61 L347.85,34.21 L348.35,34.83 L348.87,35.46 L349.40,36.11 L349.96,36.76 L350.52,37.42 L351.10,38.07 L351.70,38.71 L352.31,39.33 L352.93,39.94 L353.56,40.53 L354.20,41.09 L354.86,41.61 L355.52,42.10 L356.19,42.54 L356.87,42.94 L357.55,43.29 L358.24,43.58 L358.94,43.82 L359.64,44.01 L360.35,44.15 L361.07,44.25 L361.78,44.30 L362.51,44.30 L363.23,44.27 L363.96,44.19 L364.69,44.08 L365.43,43.93 L366.17,43.74 L366.91,43.52 L367.65,43.28 L368.39,43.00 L369.13,42.69 L369.88,42.36 L370.62,42.00 L371.36,41.63 L372.11,41.23 L372.85,40.81 L373.59,40.38 L374.33,39.93 L375.06,39.47 L375.80,39.00 L376.53,38.53 L377.26,38.05 L377.99,37.57 L378.72,37.10 L379.44,36.64 L380.17,36.19 L380.89,35.75 L381.60,35.33 L382.32,34.92 L383.03,34.55 L383.74,34.20 L384.45,33.88 L385.16,33.59 L385.86,33.35 L386.56,33.14 L387.25,32.97 L387.95,32.86 L388.64,32.79 L389.32,32.77 L390.01,32.82 L390.69,32.91 L391.37,33.06 L392.04,33.26 L392.71,33.51 L393.38,33.80 L394.05,34.13 L394.72,34.49 L395.38,34.89 L396.04,35.32 L396.70,35.78 L397.35,36.26 L398.01,36.76 L398.66,37.28 L399.31,37.81 L399.96,38.36 L400.61,38.91 L401.25,39.47 L401.90,40.03 L402.54,40.59 L403.19,41.15 L403.83,41.70 L404.47,42.26 L405.12,42.81 L405.76,43.36 L406.40,43.90 L407.05,44.44 L407.69,44.98 L408.34,45.50 L408.99,46.03 L409.63,46.54 L410.29,47.05 L410.94,47.55 L411.59,48.05 L412.25,48.53 L412.91,49.01 L413.57,49.47 L414.24,49.93 L414.91,50.37 L415.58,50.80 L416.26,51.22 L416.94,51.63 L417.63,52.03 L418.32,52.41 L419.01,52.77 L419.71,53.13 L420.42,53.46 L421.13,53.78 L421.85,54.09 L422.57,54.37 L423.30,54.64 L424.03,54.89 L424.78,55.13 L425.52,55.34 L426.28,55.54 L427.04,55.71 L427.81,55.86 L428.59,55.99 L429.38,56.10 L430.18,56.19 L430.98,56.26 L431.79,56.30 L432.60,56.31 L433.42,56.29 L434.23,56.24 L435.03,56.15 L435.81,56.03 L436.59,55.86 L437.34,55.65 L438.06,55.39 L438.76,55.08 L439.43,54.72 L440.06,54.30 L440.65,53.83 L441.21,53.31 L441.74,52.75 L442.23,52.14 L442.70,51.50 L443.14,50.83 L443.55,50.13 L443.94,49.41 L444.30,48.67 L444.65,47.91 L444.97,47.14 L445.28,46.37 L445.57,45.58 L445.86,44.79 L446.13,44.00 L446.40,43.21 L446.67,42.41 L446.93,41.62 L447.20,40.83 L447.48,40.05 L447.76,39.28 L448.05,38.52 L448.35,37.77 L448.67,37.04 L449.01,36.32 L449.37,35.62 L449.76,34.95 L450.17,34.29 L450.61,33.66 L451.08,33.06 L451.58,32.48 L452.20,31.90 L452.20,31.90 L451.88,32.74 L451.97,33.54 L452.05,34.35 L452.13,35.15 L452.22,35.95 L452.30,36.75 L452.39,37.55 L452.47,38.36 L452.55,39.16 L452.64,39.96 L452.72,40.76 L452.81,41.56 L452.89,42.37 L452.98,43.17 L453.06,43.97 L453.15,44.77 L453.24,45.57 L453.32,46.38 L453.41,47.18 L453.49,47.98 L453.58,48.78 L453.67,49.58 L453.75,50.39 L453.84,51.19 L453.92,51.99 L454.01,52.79 L454.10,53.59 L454.18,54.40 L454.27,55.20 L454.36,56.00 L454.44,56.80 L454.53,57.60 L454.62,58.41 L454.71,59.21 L454.79,60.01 L454.88,60.81 L454.97,61.61 L455.05,62.42 L455.14,63.22 L455.23,64.02 L455.31,64.82 L455.40,65.62 L455.49,66.43 L455.57,67.23 L455.66,68.03 L455.74,68.83 L455.83,69.63 L455.92,70.44 L456.00,71.24 L456.09,72.04 L456.17,72.84 L456.26,73.64 L456.35,74.45 L456.43,75.25 L456.52,76.05 L456.60,76.85 L456.69,77.65 L456.77,78.46 L456.86,79.26 L456.94,80.06 L457.02,80.86 L457.11,81.67 L457.19,82.47 L457.28,83.27 L457.36,84.07 L457.44,84.87 L457.53,85.68 L457.61,86.48 L457.69,87.28 L457.77,88.08 L457.85,88.89 L457.94,89.69 L458.02,90.49 L458.10,91.29 L458.18,92.10 L458.26,92.90 L458.34,93.70 L458.42,94.50 L458.50,95.31 L458.58,96.11 L458.66,96.91 L458.73,97.71 L458.81,98.52 L458.89,99.32 L458.97,100.12 L459.04,100.92 L459.12,101.73 L459.20,102.53 L459.27,103.33 L459.35,104.14 L459.42,104.94 L459.50,105.74 L459.57,106.55 L459.64,107.35 L459.72,108.15 L459.79,108.95 L459.86,109.76 L459.93,110.56 L460.01,111.36 L460.08,112.17 L460.15,112.97 L460.22,113.77 L460.29,114.58 L460.35,115.38 L460.42,116.18 L460.49,116.99 L460.56,117.79 L460.62,118.59 L460.69,119.40 L460.76,120.20 L460.82,121.01 L460.88,121.81 L460.95,122.61 L461.01,123.42 L461.07,124.22 L461.14,125.02 L461.20,125.83 L461.26,126.63 L461.32,127.44 L461.38,128.24 L461.44,129.04 L461.49,129.85 L461.55,130.65 L461.61,131.46 L461.67,132.26 L461.72,133.07 L461.78,133.87 L461.83,134.68 L461.88,135.48 L461.94,136.28 L461.99,137.09 L462.04,137.89 L462.09,138.70 L462.14,139.50 L462.19,140.31 L462.24,141.11 L462.28,141.92 L462.33,142.72 L462.38,143.53 L462.42,144.33 L462.47,145.14 L462.51,145.94 L462.55,146.75 L462.59,147.55 L462.64,148.36 L462.68,149.17 L462.72,149.97 L462.75,150.78 L462.79,151.58 L462.83,152.39 L462.86,153.19 L462.90,154.00 L462.93,154.81 L462.97,155.61 L463.00,156.42 L463.03,157.22 L463.06,158.03 L463.09,158.84 L463.12,159.64 L463.15,160.45 L463.18,161.26 L463.20,162.06 L463.23,162.87 L463.25,163.68 L463.27,164.48 L463.30,165.29 L463.32,166.10 L463.34,166.90 L463.36,167.71 L463.37,168.52 L463.39,169.33 L463.41,170.13 L463.42,170.94 L463.44,171.75 L463.45,172.56 L463.46,173.36 L463.47,174.17 L463.48,174.98 L463.49,175.79 L463.50,176.60 L463.50,177.40 L463.51,178.21 L463.51,179.02 L463.52,179.83 L463.52,180.64 L463.52,181.44 L463.52,182.25 L463.52,183.06 L463.52,183.87 L463.51,184.68 L463.51,185.49 L463.50,186.30 L463.50,187.11 L463.49,187.92 L463.48,188.72 L463.80,189.50 L463.80,189.50 L463.72,188.81 L463.77,187.99 L463.82,187.16 L463.87,186.34 L463.92,185.52 L463.97,184.70 L464.01,183.88 L464.05,183.06 L464.10,182.24 L464.14,181.43 L464.17,180.61 L464.21,179.80 L464.25,178.99 L464.28,178.17 L464.31,177.36 L464.35,176.55 L464.38,175.74 L464.41,174.94 L464.44,174.13 L464.47,173.32 L464.49,172.52 L464.52,171.71 L464.55,170.91 L464.57,170.10 L464.60,169.30 L464.63,168.50 L464.65,167.70 L464.68,166.90 L464.70,166.10 L464.73,165.30 L464.75,164.50 L464.78,163.70 L464.80,162.90 L464.83,162.10 L464.85,161.30 L464.88,160.50 L464.90,159.71 L464.93,158.91 L464.96,158.11 L464.99,157.32 L465.02,156.52 L465.05,155.72 L465.08,154.93 L465.11,154.13 L465.14,153.33 L465.18,152.54 L465.21,151.74 L465.25,150.94 L465.29,150.15 L465.33,149.35 L465.37,148.55 L465.41,147.76 L465.46,146.96 L465.50,146.16 L465.55,145.36 L465.60,144.57 L465.65,143.77 L465.71,142.97 L465.76,142.17 L465.82,141.37 L465.88,140.57 L465.94,139.77 L466.01,138.97 L466.08,138.17 L466.15,137.36 L466.22,136.56 L466.30,135.76 L466.38,134.95 L466.46,134.15 L466.54,133.34 L466.63,132.54 L466.72,131.73 L466.81,130.92 L466.91,130.11 L467.01,129.30 L467.11,128.49 L467.22,127.68 L467.33,126.87 L467.45,126.05 L467.56,125.24 L467.69,124.42 L467.81,123.60 L467.94,122.79 L468.07,121.97 L468.21,121.15 L468.35,120.32 L468.50,119.50 L468.65,118.68 L468.82,117.87 L468.99,117.05 L469.18,116.25 L469.37,115.45 L469.59,114.66 L469.81,113.88 L470.06,113.12 L470.33,112.36 L470.61,111.63 L470.92,110.90 L471.25,110.20 L471.61,109.52 L471.99,108.86 L472.40,108.22 L472.84,107.60 L473.31,107.01 L473.82,106.45 L474.36,105.92 L474.93,105.41 L475.54,104.94 L476.19,104.50 L476.86,104.10 L477.56,103.73 L478.27,103.40 L479.00,103.11 L479.75,102.86 L480.50,102.66 L481.25,102.50 L482.01,102.38 L482.76,102.32 L483.49,102.30 L484.22,102.33 L484.93,102.42 L485.61,102.56 L486.27,102.76 L486.90,103.01 L487.49,103.33 L488.05,103.70 L488.56,104.14 L489.03,104.64 L489.46,105.19 L489.85,105.79 L490.20,106.45 L490.52,107.14 L490.80,107.88 L491.06,108.65 L491.28,109.45 L491.48,110.28 L491.65,111.13 L491.80,112.00 L491.94,112.89 L492.05,113.79 L492.14,114.69 L492.22,115.59 L492.29,116.50 L492.35,117.40 L492.40,118.28 L492.44,119.16 L492.48,120.01 L492.52,120.85 L492.55,121.67 L492.58,122.47 L492.61,123.27 L492.64,124.05 L492.67,124.82 L492.70,125.59 L492.73,126.35 L492.75,127.10 L492.79,127.86 L492.82,128.61 L492.85,129.37 L492.89,130.13 L492.93,130.90 L492.98,131.68 L493.03,132.46 L493.08,133.26 L493.15,134.07 L493.21,134.89 L493.20,135.80 L494.6,67.8 L494.60,67.80 L494.56,68.70 L494.72,69.42 L494.84,70.17 L494.93,70.92 L495.00,71.69 L495.04,72.47 L495.06,73.27 L495.06,74.07 L495.04,74.89 L495.01,75.71 L494.97,76.54 L494.92,77.38 L494.87,78.22 L494.81,79.06 L494.76,79.91 L494.71,80.76 L494.66,81.62 L494.63,82.47 L494.61,83.32 L494.60,84.16 L494.61,85.01 L494.64,85.85 L494.69,86.68 L494.77,87.49 L494.87,88.30 L495.00,89.09 L495.17,89.86 L495.36,90.61 L495.60,91.34 L495.87,92.04 L496.17,92.71 L496.53,93.35 L496.92,93.95 L497.36,94.52 L497.85,95.05 L498.39,95.53 L498.98,95.98 L499.62,96.38 L500.29,96.73 L501.00,97.04 L501.75,97.31 L502.52,97.53 L503.31,97.71 L504.13,97.84 L504.95,97.93 L505.78,97.97 L506.62,97.97 L507.46,97.93 L508.29,97.84 L509.11,97.70 L509.91,97.52 L510.70,97.30 L511.46,97.03 L512.19,96.72 L512.90,96.36 L513.58,95.97 L514.23,95.53 L514.86,95.07 L515.46,94.57 L516.04,94.03 L516.59,93.48 L517.12,92.89 L517.62,92.28 L518.09,91.65 L518.54,91.01 L518.97,90.34 L519.38,89.67 L519.76,88.98 L520.12,88.28 L520.46,87.57 L520.77,86.85 L521.07,86.12 L521.34,85.38 L521.60,84.64 L521.84,83.89 L522.06,83.13 L522.26,82.36 L522.45,81.59 L522.63,80.81 L522.78,80.02 L522.93,79.23 L523.06,78.43 L523.18,77.63 L523.29,76.82 L523.39,76.01 L523.48,75.20 L523.56,74.38 L523.63,73.56 L523.69,72.74 L523.74,71.91 L523.79,71.09 L523.84,70.26 L523.88,69.43 L523.91,68.60 L523.95,67.77 L523.98,66.94 L524.01,66.11 L524.03,65.28 L524.06,64.46 L524.09,63.63 L524.12,62.81 L524.15,61.99 L524.19,61.17 L524.23,60.36 L524.27,59.55 L524.32,58.74 L524.37,57.94 L524.42,57.14 L524.48,56.34 L524.54,55.54 L524.60,54.75 L524.67,53.95 L524.74,53.16 L524.80,52.37 L524.87,51.58 L524.94,50.79 L525.02,50.00 L525.09,49.21 L525.16,48.43 L525.23,47.64 L525.30,46.85 L525.37,46.05 L525.44,45.26 L525.51,44.47 L525.57,43.67 L525.64,42.87 L525.70,42.07 L525.76,41.27 L525.81,40.46 L525.87,39.65 L525.91,38.84 L525.96,38.02 L526.00,37.20 L526.03,36.37 L526.06,35.54 L526.09,34.71 L526.11,33.87 L526.12,33.02 L526.30,32.30 L526.30,32.30 L526.21,33.18 L526.24,33.98 L526.28,34.78 L526.32,35.58 L526.35,36.37 L526.38,37.17 L526.42,37.97 L526.45,38.77 L526.48,39.57 L526.52,40.37 L526.55,41.17 L526.58,41.97 L526.61,42.77 L526.64,43.57 L526.67,44.37 L526.70,45.17 L526.73,45.97 L526.76,46.77 L526.79,47.58 L526.82,48.38 L526.85,49.18 L526.88,49.98 L526.91,50.79 L526.94,51.59 L526.97,52.39 L526.99,53.20 L527.02,54.00 L527.05,54.81 L527.08,55.61 L527.11,56.41 L527.13,57.22 L527.16,58.02 L527.19,58.83 L527.22,59.63 L527.25,60.44 L527.27,61.24 L527.30,62.05 L527.33,62.86 L527.36,63.66 L527.39,64.47 L527.42,65.27 L527.45,66.08 L527.47,66.89 L527.50,67.69 L527.53,68.50 L527.56,69.31 L527.59,70.11 L527.62,70.92 L527.65,71.73 L527.69,72.53 L527.72,73.34 L527.75,74.15 L527.78,74.95 L527.81,75.76 L527.85,76.57 L527.88,77.38 L527.91,78.18 L527.95,78.99 L527.98,79.80 L528.02,80.60 L528.05,81.41 L528.09,82.22 L528.13,83.03 L528.16,83.83 L528.20,84.64 L528.24,85.45 L528.28,86.26 L528.32,87.06 L528.36,87.87 L528.40,88.68 L528.44,89.48 L528.49,90.29 L528.53,91.10 L528.57,91.90 L528.62,92.71 L528.67,93.52 L528.71,94.32 L528.76,95.13 L528.81,95.94 L528.86,96.74 L528.91,97.55 L528.96,98.35 L529.01,99.16 L529.07,99.96 L529.12,100.77 L529.17,101.58 L529.23,102.38 L529.29,103.19 L529.35,103.99 L529.40,104.79 L529.47,105.60 L529.53,106.40 L529.59,107.21 L529.65,108.01 L529.72,108.81 L529.78,109.62 L529.85,110.42 L529.92,111.22 L529.99,112.03 L530.06,112.83 L530.13,113.63 L530.21,114.43 L530.28,115.23 L530.36,116.04 L530.43,116.84 L530.51,117.64 L530.59,118.44 L530.67,119.24 L530.76,120.04 L530.84,120.84 L530.93,121.64 L531.01,122.44 L531.10,123.24 L531.19,124.03 L531.29,124.83 L531.38,125.63 L531.47,126.43 L531.57,127.23 L531.67,128.02 L531.77,128.82 L531.87,129.61 L531.97,130.41 L532.08,131.21 L532.18,132.00 L532.29,132.79 L532.40,133.59 L532.51,134.38 L532.63,135.18 L532.74,135.97 L532.86,136.76 L532.98,137.55 L533.10,138.34 L533.22,139.14 L533.35,139.93 L533.47,140.72 L533.60,141.51 L533.73,142.30 L533.86,143.08 L534.00,143.87 L534.13,144.66 L534.27,145.45 L534.41,146.24 L534.55,147.02 L534.70,147.81 L534.84,148.59 L534.99,149.38 L535.14,150.16 L535.30,150.95 L535.45,151.73 L535.61,152.51 L535.77,153.29 L535.93,154.08 L536.09,154.86 L536.26,155.64 L536.43,156.42 L536.60,157.20 L536.77,157.98 L536.94,158.75 L538.60,158.60" stroke="#ff1010"/>
</g>
<rect x="396.9" y="136.9" width="52.6" height="53.3" fill="#a2c6ec"/>
<path d="M400.2,186.4 H423.2 V175.3 H433.5 V163.2 H446.1 V141 H423.2 V152.6 H410.6 V163.9 H400.2 Z" fill="#ffff00"/>
<rect x="495.8" y="149.7" width="33" height="24.3" fill="#fff" stroke="#b0b0b0" stroke-width="1"/>
<line x1="496.3" y1="155.4" x2="515.2" y2="155.4" stroke="#1010ff" stroke-width="2"/>
<line x1="496.3" y1="167.2" x2="515.2" y2="167.2" stroke="#ff1010" stroke-width="2"/>
<text x="516.6" y="158.7" font-size="8.6" fill="#333" stroke="#333" stroke-width="0.22">R<tspan font-size="5.1" dy="1.9" stroke-width="0.08">xx</tspan></text>
<text x="516.6" y="170.4" font-size="8.6" fill="#333" stroke="#333" stroke-width="0.22">R<tspan font-size="5.1" dy="1.9" stroke-width="0.08">yx</tspan></text>
<g stroke="#262626" stroke-width="1.9" fill="none"><rect x="327.4" y="31.8" width="211.2" height="170.1" fill="none"/><line x1="327.4" y1="201.9" x2="327.4" y2="205.4"/><line x1="327.4" y1="31.8" x2="327.4" y2="34.8"/><line x1="369.64" y1="201.9" x2="369.64" y2="205.4"/><line x1="369.64" y1="31.8" x2="369.64" y2="34.8"/><line x1="411.88" y1="201.9" x2="411.88" y2="205.4"/><line x1="411.88" y1="31.8" x2="411.88" y2="34.8"/><line x1="454.12" y1="201.9" x2="454.12" y2="205.4"/><line x1="454.12" y1="31.8" x2="454.12" y2="34.8"/><line x1="496.36" y1="201.9" x2="496.36" y2="205.4"/><line x1="496.36" y1="31.8" x2="496.36" y2="34.8"/><line x1="538.6" y1="201.9" x2="538.6" y2="205.4"/><line x1="538.6" y1="31.8" x2="538.6" y2="34.8"/><line x1="348.52" y1="201.9" x2="348.52" y2="203.9"/><line x1="348.52" y1="31.8" x2="348.52" y2="33.8"/><line x1="390.76" y1="201.9" x2="390.76" y2="203.9"/><line x1="390.76" y1="31.8" x2="390.76" y2="33.8"/><line x1="433" y1="201.9" x2="433" y2="203.9"/><line x1="433" y1="31.8" x2="433" y2="33.8"/><line x1="475.24" y1="201.9" x2="475.24" y2="203.9"/><line x1="475.24" y1="31.8" x2="475.24" y2="33.8"/><line x1="517.48" y1="201.9" x2="517.48" y2="203.9"/><line x1="517.48" y1="31.8" x2="517.48" y2="33.8"/><line x1="323.9" y1="31.8" x2="327.4" y2="31.8"/><line x1="538.6" y1="31.8" x2="535.6" y2="31.8"/><line x1="323.9" y1="62.73" x2="327.4" y2="62.73"/><line x1="538.6" y1="62.73" x2="535.6" y2="62.73"/><line x1="323.9" y1="93.65" x2="327.4" y2="93.65"/><line x1="538.6" y1="93.65" x2="535.6" y2="93.65"/><line x1="323.9" y1="124.58" x2="327.4" y2="124.58"/><line x1="538.6" y1="124.58" x2="535.6" y2="124.58"/><line x1="323.9" y1="155.51" x2="327.4" y2="155.51"/><line x1="538.6" y1="155.51" x2="535.6" y2="155.51"/><line x1="323.9" y1="186.44" x2="327.4" y2="186.44"/><line x1="538.6" y1="186.44" x2="535.6" y2="186.44"/><line x1="325.4" y1="47.26" x2="327.4" y2="47.26"/><line x1="538.6" y1="47.26" x2="536.6" y2="47.26"/><line x1="325.4" y1="78.19" x2="327.4" y2="78.19"/><line x1="538.6" y1="78.19" x2="536.6" y2="78.19"/><line x1="325.4" y1="109.12" x2="327.4" y2="109.12"/><line x1="538.6" y1="109.12" x2="536.6" y2="109.12"/><line x1="325.4" y1="140.05" x2="327.4" y2="140.05"/><line x1="538.6" y1="140.05" x2="536.6" y2="140.05"/><line x1="325.4" y1="170.97" x2="327.4" y2="170.97"/><line x1="538.6" y1="170.97" x2="536.6" y2="170.97"/><line x1="325.4" y1="201.9" x2="327.4" y2="201.9"/><line x1="538.6" y1="201.9" x2="536.6" y2="201.9"/></g>
<text x="322.1" y="34.4" font-size="7.6" text-anchor="end" font-weight="bold" fill="#222"  stroke="#222" stroke-width="0.22">0</text>
<text x="322.1" y="65.33" font-size="7.6" text-anchor="end" font-weight="bold" fill="#222"  stroke="#222" stroke-width="0.22">-10</text>
<text x="322.1" y="96.25" font-size="7.6" text-anchor="end" font-weight="bold" fill="#222"  stroke="#222" stroke-width="0.22">-20</text>
<text x="322.1" y="127.18" font-size="7.6" text-anchor="end" font-weight="bold" fill="#222"  stroke="#222" stroke-width="0.22">-30</text>
<text x="322.1" y="158.11" font-size="7.6" text-anchor="end" font-weight="bold" fill="#222"  stroke="#222" stroke-width="0.22">-40</text>
<text x="322.1" y="189.04" font-size="7.6" text-anchor="end" font-weight="bold" fill="#222"  stroke="#222" stroke-width="0.22">-50</text>
<text x="327.4" y="214" font-size="7.6" text-anchor="middle" font-weight="bold" fill="#222"  stroke="#222" stroke-width="0.22">5</text>
<text x="369.64" y="214" font-size="7.6" text-anchor="middle" font-weight="bold" fill="#222"  stroke="#222" stroke-width="0.22">10</text>
<text x="411.88" y="214" font-size="7.6" text-anchor="middle" font-weight="bold" fill="#222"  stroke="#222" stroke-width="0.22">15</text>
<text x="454.12" y="214" font-size="7.6" text-anchor="middle" font-weight="bold" fill="#222"  stroke="#222" stroke-width="0.22">20</text>
<text x="496.36" y="214" font-size="7.6" text-anchor="middle" font-weight="bold" fill="#222"  stroke="#222" stroke-width="0.22">25</text>
<text x="538.6" y="214" font-size="7.6" text-anchor="middle" font-weight="bold" fill="#222"  stroke="#222" stroke-width="0.22">30</text>
<text x="433.4" y="227.6" font-size="9.6" text-anchor="middle" font-weight="normal" fill="#333" textLength="62" lengthAdjust="spacingAndGlyphs" stroke="#333" stroke-width="0.22">Frequency (GHz)</text>
<text transform="translate(302.8,112) rotate(-90)" x="0" y="0" font-size="9.1" text-anchor="middle" fill="#333" textLength="97.8" lengthAdjust="spacingAndGlyphs" stroke="#333" stroke-width="0.22">Reflection Coefficient (dB)</text>
<text x="298.4" y="18.5" font-size="16.5" text-anchor="start" font-weight="normal" fill="#222"  stroke="#222" stroke-width="0.22">(b)</text>
<g stroke="#8a8a8a" stroke-width="1.15" stroke-dasharray="2 2"><line x1="85.1" y1="256.8" x2="85.1" y2="425.5"/><line x1="127" y1="256.8" x2="127" y2="425.5"/><line x1="168.9" y1="256.8" x2="168.9" y2="425.5"/><line x1="210.8" y1="256.8" x2="210.8" y2="425.5"/><line x1="43.2" y1="391.76" x2="252.7" y2="391.76"/><line x1="43.2" y1="358.02" x2="252.7" y2="358.02"/><line x1="43.2" y1="324.28" x2="252.7" y2="324.28"/><line x1="43.2" y1="290.54" x2="252.7" y2="290.54"/></g>
<g fill="none" stroke-linejoin="round" clip-path="url(#cc)">
<path d="M43.20,425.40 L43.84,425.23 L44.71,425.31 L45.58,425.38 L46.44,425.44 L47.29,425.49 L48.13,425.53 L48.96,425.56 L49.79,425.59 L50.61,425.61 L51.42,425.62 L52.23,425.62 L53.03,425.62 L53.83,425.62 L54.62,425.60 L55.41,425.59 L56.19,425.57 L56.97,425.54 L57.75,425.52 L58.53,425.49 L59.30,425.45 L60.07,425.42 L60.84,425.38 L61.61,425.35 L62.38,425.31 L63.15,425.27 L63.92,425.24 L64.70,425.20 L65.47,425.17 L66.24,425.14 L67.02,425.11 L67.80,425.08 L68.59,425.06 L69.37,425.04 L70.17,425.03 L70.96,425.02 L71.76,425.01 L72.57,425.01 L73.38,425.02 L74.20,425.03 L75.02,425.05 L75.85,425.07 L76.68,425.09 L77.52,425.12 L78.36,425.14 L79.20,425.17 L80.04,425.19 L80.88,425.22 L81.73,425.24 L82.57,425.25 L83.41,425.27 L84.26,425.27 L85.10,425.28 L85.94,425.27 L86.78,425.26 L87.61,425.24 L88.44,425.20 L89.27,425.16 L90.09,425.11 L90.91,425.04 L91.73,424.96 L92.53,424.87 L93.33,424.76 L94.13,424.64 L94.91,424.50 L95.69,424.35 L96.46,424.17 L97.22,423.98 L97.97,423.76 L98.72,423.53 L99.45,423.27 L100.17,422.99 L100.87,422.69 L101.57,422.36 L102.26,422.02 L102.93,421.65 L103.59,421.26 L104.24,420.85 L104.88,420.43 L105.51,419.98 L106.12,419.52 L106.73,419.04 L107.32,418.54 L107.90,418.03 L108.46,417.50 L109.02,416.95 L109.56,416.39 L110.09,415.82 L110.61,415.23 L111.11,414.63 L111.61,414.02 L112.09,413.39 L112.56,412.76 L113.01,412.11 L113.45,411.45 L113.88,410.79 L114.30,410.11 L114.70,409.43 L115.09,408.74 L115.47,408.04 L115.83,407.33 L116.18,406.62 L116.52,405.90 L116.85,405.18 L117.16,404.45 L117.46,403.72 L117.75,402.98 L118.02,402.23 L118.29,401.49 L118.54,400.74 L118.79,399.98 L119.02,399.22 L119.25,398.46 L119.47,397.69 L119.68,396.92 L119.88,396.15 L120.07,395.37 L120.26,394.59 L120.44,393.81 L120.61,393.03 L120.78,392.24 L120.94,391.45 L121.10,390.66 L121.26,389.87 L121.41,389.08 L121.55,388.28 L121.70,387.49 L121.84,386.69 L121.97,385.89 L122.11,385.09 L122.24,384.29 L122.38,383.49 L122.51,382.69 L122.65,381.89 L122.78,381.09 L122.91,380.29 L123.05,379.49 L123.19,378.69 L123.32,377.89 L123.46,377.10 L123.60,376.30 L123.74,375.50 L123.89,374.71 L124.03,373.91 L124.17,373.11 L124.32,372.32 L124.46,371.52 L124.61,370.73 L124.76,369.94 L124.91,369.14 L125.06,368.35 L125.20,367.56 L125.35,366.77 L125.50,365.97 L125.65,365.18 L125.80,364.39 L125.96,363.60 L126.11,362.81 L126.26,362.02 L126.41,361.23 L126.56,360.44 L126.71,359.65 L126.87,358.86 L127.02,358.07 L127.17,357.28 L127.32,356.49 L127.47,355.70 L127.62,354.92 L127.78,354.13 L127.93,353.34 L128.08,352.55 L128.23,351.77 L128.38,350.98 L128.53,350.19 L128.67,349.40 L128.82,348.62 L128.97,347.83 L129.11,347.04 L129.26,346.25 L129.41,345.47 L129.55,344.68 L129.69,343.89 L129.83,343.11 L129.98,342.32 L130.12,341.53 L130.25,340.75 L130.39,339.96 L130.53,339.17 L130.66,338.39 L130.80,337.60 L130.93,336.81 L131.06,336.02 L131.19,335.24 L131.32,334.45 L131.45,333.66 L131.57,332.87 L131.70,332.09 L131.82,331.30 L131.94,330.51 L132.06,329.72 L132.17,328.93 L132.29,328.14 L132.40,327.35 L132.51,326.57 L132.62,325.78 L132.73,324.99 L132.83,324.20 L132.94,323.41 L133.04,322.62 L133.14,321.83 L133.23,321.03 L133.33,320.24 L133.43,319.45 L133.52,318.66 L133.61,317.87 L133.71,317.08 L133.80,316.28 L133.89,315.49 L133.98,314.70 L134.07,313.91 L134.16,313.11 L134.25,312.32 L134.34,311.53 L134.42,310.73 L134.51,309.94 L134.60,309.15 L134.69,308.35 L134.78,307.56 L134.87,306.77 L134.97,305.97 L135.06,305.18 L135.15,304.38 L135.25,303.59 L135.34,302.79 L135.44,302.00 L135.54,301.21 L135.64,300.41 L135.74,299.62 L135.84,298.82 L135.95,298.03 L136.06,297.23 L136.17,296.44 L136.28,295.64 L136.39,294.85 L136.51,294.05 L136.63,293.25 L136.75,292.46 L136.88,291.66 L137.00,290.87 L137.14,290.07 L137.27,289.28 L137.41,288.48 L137.55,287.69 L137.70,286.89 L137.84,286.10 L138.00,285.30 L138.15,284.51 L138.31,283.71 L138.48,282.92 L138.65,282.12 L138.82,281.33 L139.00,280.53 L139.18,279.74 L139.37,278.94 L139.56,278.15 L139.76,277.35 L139.96,276.56 L140.17,275.76 L140.38,274.97 L140.60,274.18 L140.82,273.38 L141.05,272.59 L141.29,271.79 L141.53,271.00 L141.78,270.21 L142.03,269.41 L142.29,268.62 L142.56,267.83 L142.84,267.04 L143.12,266.26 L143.42,265.50 L143.73,264.75 L144.05,264.02 L144.39,263.31 L144.75,262.63 L145.13,261.97 L145.52,261.35 L145.94,260.77 L146.38,260.23 L146.85,259.73 L147.34,259.28 L147.86,258.88 L148.41,258.53 L148.99,258.24 L149.60,258.01 L150.25,257.85 L150.93,257.75 L151.63,257.70 L152.37,257.70 L153.13,257.73 L153.92,257.80 L154.73,257.88 L155.55,257.98 L156.39,258.09 L157.25,258.19 L158.12,258.29 L159.00,258.36 L159.89,258.41 L160.78,258.43 L161.67,258.40 L162.56,258.33 L163.46,258.24 L164.35,258.11 L165.23,257.98 L166.10,257.83 L166.97,257.68 L167.82,257.54 L168.65,257.42 L169.47,257.32 L170.27,257.24 L171.04,257.21 L171.79,257.22 L172.52,257.28 L173.22,257.41 L173.88,257.60 L174.52,257.86 L175.12,258.19 L175.70,258.58 L176.26,259.02 L176.79,259.51 L177.30,260.05 L177.79,260.62 L178.26,261.23 L178.72,261.86 L179.17,262.52 L179.60,263.20 L180.03,263.88 L180.44,264.58 L180.86,265.28 L181.26,265.98 L181.67,266.68 L182.06,267.38 L182.45,268.09 L182.84,268.79 L183.22,269.50 L183.60,270.21 L183.98,270.92 L184.34,271.63 L184.71,272.35 L185.07,273.06 L185.42,273.78 L185.77,274.50 L186.12,275.22 L186.47,275.94 L186.80,276.66 L187.14,277.39 L187.47,278.11 L187.80,278.84 L188.12,279.57 L188.44,280.30 L188.76,281.03 L189.07,281.76 L189.38,282.49 L189.69,283.23 L189.99,283.96 L190.29,284.70 L190.59,285.44 L190.88,286.17 L191.17,286.91 L191.46,287.66 L191.75,288.40 L192.03,289.14 L192.31,289.89 L192.59,290.63 L192.86,291.38 L193.14,292.13 L193.41,292.87 L193.67,293.62 L193.94,294.37 L194.20,295.13 L194.46,295.88 L194.72,296.63 L194.98,297.38 L195.24,298.14 L195.49,298.90 L195.74,299.65 L195.99,300.41 L196.24,301.17 L196.49,301.93 L196.74,302.69 L196.98,303.45 L197.22,304.21 L197.47,304.97 L197.71,305.73 L197.95,306.49 L198.19,307.26 L198.43,308.02 L198.67,308.79 L198.90,309.55 L199.14,310.32 L199.37,311.09 L199.61,311.85 L199.85,312.62 L200.08,313.39 L200.31,314.16 L200.55,314.93 L200.78,315.70 L201.02,316.47 L201.25,317.24 L201.48,318.01 L201.72,318.78 L201.95,319.55 L202.19,320.32 L202.42,321.09 L202.66,321.86 L202.89,322.64 L203.13,323.41 L203.36,324.18 L203.60,324.95 L203.84,325.72 L204.08,326.50 L204.31,327.27 L204.55,328.04 L204.79,328.81 L205.03,329.59 L205.28,330.36 L205.52,331.13 L205.76,331.90 L206.01,332.67 L206.25,333.44 L206.50,334.21 L206.74,334.98 L206.99,335.75 L207.24,336.52 L207.49,337.29 L207.74,338.05 L208.00,338.82 L208.25,339.59 L208.51,340.35 L208.77,341.12 L209.03,341.88 L209.29,342.65 L209.55,343.41 L209.81,344.17 L210.08,344.94 L210.35,345.70 L210.62,346.46 L210.89,347.21 L211.16,347.97 L211.43,348.73 L211.71,349.48 L211.99,350.24 L212.27,350.99 L212.56,351.75 L212.84,352.50 L213.13,353.25 L213.42,354.00 L213.71,354.74 L214.01,355.49 L214.30,356.23 L214.60,356.98 L214.90,357.72 L215.21,358.46 L215.52,359.20 L215.83,359.94 L216.14,360.67 L216.46,361.41 L216.77,362.14 L217.10,362.87 L217.42,363.60 L217.75,364.33 L218.08,365.05 L218.41,365.78 L218.75,366.50 L219.09,367.22 L219.43,367.94 L219.77,368.66 L220.12,369.37 L220.48,370.08 L220.83,370.80 L221.19,371.50 L221.55,372.21 L221.92,372.92 L222.29,373.62 L222.66,374.32 L223.04,375.02 L223.42,375.71 L223.80,376.40 L224.19,377.10 L224.59,377.78 L224.98,378.47 L225.38,379.15 L225.79,379.84 L226.19,380.51 L226.61,381.19 L227.02,381.86 L227.44,382.54 L227.87,383.20 L228.30,383.87 L228.73,384.53 L229.17,385.19 L229.61,385.85 L230.06,386.51 L230.51,387.16 L230.96,387.81 L231.42,388.45 L231.89,389.10 L232.36,389.74 L232.83,390.37 L233.31,391.01 L233.80,391.64 L234.29,392.27 L234.78,392.89 L235.28,393.51 L235.78,394.13 L236.29,394.75 L236.81,395.36 L237.33,395.97 L237.85,396.57 L238.38,397.18 L238.92,397.77 L239.46,398.37 L240.01,398.96 L240.56,399.55 L241.12,400.13 L241.68,400.72 L242.25,401.29 L242.82,401.87 L243.40,402.44 L243.99,403.00 L244.58,403.56 L245.18,404.12 L245.78,404.68 L246.39,405.23 L247.00,405.78 L247.62,406.32 L248.25,406.86 L248.88,407.39 L249.52,407.93 L250.17,408.45 L250.82,408.98 L251.48,409.50 L252.15,410.01 L252.70,410.20" stroke="#ff1010" stroke-width="2"/>
<path d="M43.20,425.30 L43.87,424.79 L44.26,424.07 L44.64,423.34 L45.01,422.62 L45.37,421.89 L45.72,421.16 L46.07,420.43 L46.41,419.70 L46.74,418.97 L47.06,418.23 L47.38,417.49 L47.69,416.75 L47.99,416.01 L48.28,415.27 L48.57,414.52 L48.85,413.77 L49.12,413.02 L49.39,412.27 L49.65,411.52 L49.90,410.76 L50.15,410.01 L50.39,409.25 L50.63,408.49 L50.85,407.73 L51.08,406.96 L51.29,406.20 L51.50,405.43 L51.71,404.67 L51.91,403.90 L52.10,403.13 L52.29,402.35 L52.47,401.58 L52.64,400.81 L52.82,400.03 L52.98,399.25 L53.14,398.47 L53.30,397.69 L53.45,396.91 L53.60,396.13 L53.74,395.35 L53.87,394.56 L54.01,393.78 L54.13,392.99 L54.26,392.20 L54.38,391.42 L54.49,390.63 L54.60,389.84 L54.71,389.04 L54.81,388.25 L54.91,387.46 L55.01,386.66 L55.10,385.87 L55.19,385.07 L55.27,384.28 L55.36,383.48 L55.43,382.68 L55.51,381.88 L55.58,381.08 L55.65,380.28 L55.72,379.48 L55.78,378.68 L55.84,377.88 L55.90,377.08 L55.95,376.27 L56.01,375.47 L56.06,374.67 L56.11,373.86 L56.15,373.06 L56.20,372.25 L56.24,371.45 L56.28,370.64 L56.32,369.84 L56.36,369.03 L56.39,368.22 L56.43,367.42 L56.46,366.61 L56.49,365.80 L56.52,365.00 L56.55,364.19 L56.58,363.38 L56.61,362.58 L56.63,361.77 L56.66,360.96 L56.68,360.16 L56.71,359.35 L56.73,358.54 L56.75,357.74 L56.78,356.93 L56.80,356.12 L56.82,355.32 L56.84,354.51 L56.87,353.70 L56.89,352.90 L56.91,352.09 L56.93,351.29 L56.96,350.49 L56.98,349.68 L57.01,348.88 L57.03,348.08 L57.06,347.27 L57.09,346.47 L57.12,345.67 L57.14,344.87 L57.17,344.07 L57.21,343.27 L57.24,342.47 L57.27,341.67 L57.31,340.88 L57.35,340.08 L57.39,339.28 L57.43,338.49 L57.47,337.69 L57.51,336.90 L57.56,336.10 L57.60,335.31 L57.65,334.52 L57.70,333.72 L57.74,332.93 L57.79,332.14 L57.84,331.35 L57.89,330.55 L57.94,329.76 L57.99,328.97 L58.04,328.17 L58.09,327.38 L58.13,326.58 L58.18,325.79 L58.23,324.99 L58.28,324.20 L58.32,323.40 L58.37,322.60 L58.41,321.81 L58.46,321.01 L58.50,320.21 L58.54,319.40 L58.58,318.60 L58.61,317.80 L58.65,316.99 L58.68,316.19 L58.72,315.38 L58.75,314.57 L58.78,313.76 L58.81,312.95 L58.83,312.14 L58.86,311.33 L58.88,310.52 L58.91,309.71 L58.93,308.90 L58.96,308.09 L58.98,307.28 L59.00,306.46 L59.02,305.65 L59.05,304.84 L59.07,304.04 L59.09,303.23 L59.11,302.42 L59.14,301.61 L59.16,300.81 L59.18,300.01 L59.21,299.20 L59.23,298.40 L59.26,297.60 L59.29,296.81 L59.32,296.01 L59.35,295.22 L59.38,294.43 L59.41,293.64 L59.45,292.85 L59.48,292.07 L59.52,291.28 L59.56,290.50 L59.60,289.71 L59.64,288.93 L59.68,288.15 L59.72,287.36 L59.76,286.58 L59.80,285.79 L59.85,285.00 L59.89,284.21 L59.93,283.42 L59.98,282.62 L60.02,281.83 L60.07,281.03 L60.12,280.22 L60.16,279.42 L60.21,278.61 L60.26,277.79 L60.30,276.97 L60.35,276.15 L60.39,275.32 L60.44,274.49 L60.49,273.65 L60.53,272.80 L60.58,271.96 L60.63,271.11 L60.68,270.26 L60.73,269.42 L60.79,268.58 L60.84,267.74 L60.90,266.91 L60.97,266.09 L61.03,265.27 L61.11,264.47 L61.18,263.68 L61.27,262.90 L61.35,262.15 L61.45,261.44 L61.54,260.79 L61.64,260.24 L61.73,259.80 L61.83,259.49 L61.92,259.31 L62.02,259.26 L62.11,259.34 L62.21,259.54 L62.30,259.86 L62.40,260.30 L62.49,260.84 L62.59,261.47 L62.68,262.19 L62.77,262.97 L62.86,263.81 L62.95,264.70 L63.03,265.62 L63.11,266.57 L63.19,267.53 L63.26,268.49 L63.32,269.44 L63.39,270.37 L63.44,271.27 L63.50,272.15 L63.54,273.01 L63.59,273.84 L63.63,274.65 L63.67,275.45 L63.71,276.23 L63.74,277.01 L63.78,277.77 L63.81,278.53 L63.85,279.28 L63.88,280.03 L63.92,280.78 L63.96,281.53 L64.00,282.29 L64.04,283.05 L64.09,283.82 L64.14,284.59 L64.19,285.36 L64.24,286.14 L64.29,286.93 L64.35,287.71 L64.41,288.50 L64.47,289.30 L64.53,290.10 L64.59,290.89 L64.65,291.70 L64.71,292.50 L64.78,293.31 L64.84,294.12 L64.91,294.93 L64.98,295.74 L65.05,296.55 L65.11,297.36 L65.18,298.17 L65.25,298.99 L65.32,299.80 L65.39,300.62 L65.46,301.43 L65.53,302.24 L65.60,303.06 L65.66,303.87 L65.73,304.68 L65.80,305.49 L65.87,306.30 L65.93,307.10 L66.00,307.91 L66.07,308.72 L66.14,309.52 L66.21,310.33 L66.27,311.13 L66.34,311.93 L66.41,312.73 L66.48,313.53 L66.55,314.33 L66.62,315.13 L66.69,315.92 L66.76,316.72 L66.83,317.51 L66.91,318.31 L66.98,319.10 L67.06,319.89 L67.13,320.68 L67.21,321.47 L67.29,322.26 L67.37,323.05 L67.45,323.83 L67.53,324.62 L67.61,325.40 L67.70,326.19 L67.79,326.97 L67.87,327.75 L67.96,328.53 L68.05,329.31 L68.15,330.10 L68.24,330.88 L68.34,331.66 L68.44,332.45 L68.53,333.23 L68.64,334.02 L68.74,334.81 L68.84,335.59 L68.95,336.39 L69.06,337.18 L69.17,337.98 L69.28,338.77 L69.40,339.58 L69.52,340.38 L69.63,341.19 L69.76,342.00 L69.88,342.81 L70.01,343.63 L70.13,344.45 L70.26,345.28 L70.40,346.11 L70.53,346.95 L70.67,347.78 L70.82,348.62 L70.98,349.45 L71.16,350.27 L71.35,351.08 L71.56,351.87 L71.80,352.65 L72.05,353.41 L72.34,354.14 L72.65,354.85 L73.00,355.53 L73.39,356.18 L73.81,356.79 L74.27,357.37 L74.78,357.90 L75.32,358.37 L75.89,358.77 L76.48,359.09 L77.08,359.32 L77.70,359.43 L78.30,359.43 L78.90,359.33 L79.48,359.12 L80.03,358.81 L80.54,358.40 L81.02,357.91 L81.47,357.35 L81.89,356.72 L82.28,356.03 L82.65,355.29 L83.01,354.51 L83.34,353.70 L83.65,352.86 L83.96,352.01 L84.25,351.15 L84.53,350.30 L84.80,349.46 L85.07,348.64 L85.33,347.83 L85.59,347.04 L85.84,346.27 L86.09,345.51 L86.34,344.75 L86.58,344.01 L86.82,343.26 L87.05,342.53 L87.28,341.79 L87.50,341.05 L87.72,340.31 L87.94,339.57 L88.15,338.82 L88.36,338.07 L88.56,337.32 L88.76,336.56 L88.96,335.80 L89.15,335.04 L89.34,334.27 L89.53,333.51 L89.71,332.73 L89.89,331.96 L90.07,331.19 L90.25,330.41 L90.42,329.63 L90.59,328.84 L90.75,328.06 L90.92,327.27 L91.08,326.49 L91.24,325.70 L91.39,324.91 L91.55,324.11 L91.70,323.32 L91.85,322.52 L92.00,321.73 L92.14,320.93 L92.29,320.13 L92.43,319.33 L92.57,318.53 L92.71,317.73 L92.85,316.93 L92.98,316.13 L93.12,315.33 L93.25,314.53 L93.38,313.73 L93.51,312.92 L93.64,312.12 L93.77,311.32 L93.90,310.52 L94.03,309.72 L94.15,308.92 L94.28,308.12 L94.41,307.32 L94.53,306.53 L94.66,305.73 L94.78,304.93 L94.90,304.14 L95.03,303.35 L95.15,302.56 L95.28,301.77 L95.40,300.98 L95.53,300.19 L95.65,299.41 L95.78,298.63 L95.90,297.84 L96.03,297.07 L96.16,296.29 L96.29,295.51 L96.41,294.74 L96.54,293.97 L96.67,293.20 L96.80,292.43 L96.93,291.66 L97.07,290.89 L97.20,290.11 L97.33,289.34 L97.47,288.57 L97.60,287.80 L97.73,287.02 L97.87,286.24 L98.01,285.46 L98.14,284.68 L98.28,283.90 L98.42,283.11 L98.56,282.32 L98.70,281.53 L98.84,280.73 L98.98,279.93 L99.13,279.12 L99.27,278.31 L99.41,277.50 L99.56,276.68 L99.70,275.85 L99.85,275.02 L100.00,274.18 L100.14,273.33 L100.29,272.49 L100.45,271.64 L100.60,270.79 L100.77,269.94 L100.93,269.10 L101.10,268.26 L101.28,267.43 L101.47,266.61 L101.66,265.80 L101.86,265.00 L102.07,264.21 L102.30,263.45 L102.53,262.70 L102.78,261.98 L103.03,261.32 L103.29,260.73 L103.55,260.25 L103.82,259.91 L104.08,259.72 L104.35,259.68 L104.61,259.76 L104.87,259.96 L105.12,260.24 L105.37,260.59 L105.62,260.98 L105.86,261.42 L106.10,261.90 L106.34,262.42 L106.57,262.99 L106.80,263.58 L107.02,264.21 L107.24,264.88 L107.45,265.57 L107.66,266.29 L107.87,267.03 L108.07,267.80 L108.27,268.59 L108.47,269.40 L108.66,270.22 L108.85,271.06 L109.03,271.91 L109.22,272.77 L109.39,273.63 L109.57,274.51 L109.74,275.38 L109.91,276.26 L110.07,277.13 L110.23,278.00 L110.39,278.87 L110.54,279.73 L110.70,280.58 L110.84,281.42 L110.99,282.25 L111.13,283.08 L111.27,283.90 L111.41,284.72 L111.55,285.53 L111.68,286.33 L111.81,287.13 L111.94,287.92 L112.07,288.71 L112.19,289.49 L112.32,290.27 L112.44,291.05 L112.56,291.82 L112.68,292.60 L112.80,293.37 L112.92,294.13 L113.03,294.90 L113.15,295.66 L113.27,296.43 L113.38,297.19 L113.50,297.96 L113.61,298.72 L113.73,299.49 L113.84,300.26 L113.96,301.03 L114.07,301.80 L114.19,302.57 L114.31,303.34 L114.42,304.12 L114.54,304.89 L114.66,305.67 L114.77,306.45 L114.89,307.23 L115.01,308.01 L115.13,308.79 L115.25,309.58 L115.37,310.36 L115.49,311.15 L115.61,311.93 L115.73,312.72 L115.85,313.51 L115.97,314.30 L116.09,315.09 L116.22,315.88 L116.34,316.68 L116.47,317.47 L116.59,318.26 L116.72,319.06 L116.84,319.85 L116.97,320.65 L117.10,321.44 L117.23,322.24 L117.36,323.04 L117.49,323.83 L117.62,324.63 L117.75,325.43 L117.88,326.23 L118.02,327.03 L118.15,327.82 L118.29,328.62 L118.42,329.42 L118.56,330.22 L118.70,331.02 L118.84,331.82 L118.98,332.62 L119.12,333.42 L119.26,334.21 L119.41,335.01 L119.55,335.81 L119.70,336.61 L119.84,337.40 L119.99,338.20 L120.14,339.00 L120.29,339.79 L120.44,340.59 L120.60,341.38 L120.75,342.18 L120.91,342.97 L121.06,343.77 L121.22,344.56 L121.38,345.35 L121.54,346.14 L121.71,346.93 L121.87,347.72 L122.04,348.51 L122.21,349.29 L122.38,350.08 L122.55,350.87 L122.73,351.65 L122.91,352.43 L123.09,353.22 L123.27,354.00 L123.46,354.78 L123.65,355.55 L123.84,356.33 L124.03,357.11 L124.23,357.88 L124.43,358.66 L124.64,359.43 L124.84,360.20 L125.05,360.97 L125.27,361.73 L125.49,362.50 L125.71,363.26 L125.94,364.03 L126.17,364.79 L126.40,365.55 L126.64,366.30 L126.88,367.06 L127.13,367.81 L127.38,368.57 L127.64,369.32 L127.90,370.06 L128.17,370.81 L128.44,371.55 L128.71,372.30 L128.99,373.04 L129.28,373.78 L129.57,374.51 L129.87,375.25 L130.17,375.98 L130.48,376.71 L130.79,377.43 L131.11,378.16 L131.43,378.88 L131.76,379.60 L132.10,380.32 L132.44,381.03 L132.79,381.75 L133.15,382.46 L133.51,383.16 L133.88,383.87 L134.26,384.57 L134.65,385.27 L135.05,385.96 L135.46,386.65 L135.89,387.33 L136.33,388.01 L136.79,388.68 L137.27,389.34 L137.77,390.00 L138.29,390.65 L138.84,391.29 L139.40,391.93 L139.99,392.55 L140.60,393.15 L141.23,393.73 L141.87,394.27 L142.53,394.79 L143.20,395.26 L143.89,395.69 L144.58,396.07 L145.29,396.39 L146.00,396.65 L146.71,396.84 L147.43,396.96 L148.15,397.00 L148.86,396.96 L149.58,396.85 L150.28,396.66 L150.98,396.40 L151.66,396.09 L152.33,395.71 L152.97,395.28 L153.60,394.80 L154.20,394.28 L154.77,393.71 L155.30,393.11 L155.81,392.48 L156.27,391.83 L156.70,391.15 L157.08,390.45 L157.43,389.74 L157.75,389.01 L158.03,388.26 L158.29,387.51 L158.53,386.74 L158.74,385.97 L158.94,385.18 L159.12,384.40 L159.30,383.61 L159.46,382.82 L159.62,382.03 L159.78,381.23 L159.92,380.44 L160.07,379.65 L160.21,378.86 L160.34,378.06 L160.47,377.27 L160.60,376.47 L160.72,375.68 L160.83,374.89 L160.94,374.09 L161.05,373.30 L161.15,372.50 L161.25,371.70 L161.35,370.91 L161.44,370.11 L161.53,369.32 L161.61,368.52 L161.69,367.72 L161.77,366.92 L161.85,366.13 L161.92,365.33 L161.99,364.53 L162.05,363.73 L162.12,362.93 L162.18,362.14 L162.24,361.34 L162.29,360.54 L162.35,359.74 L162.40,358.94 L162.45,358.14 L162.49,357.34 L162.54,356.54 L162.58,355.74 L162.63,354.94 L162.67,354.14 L162.71,353.34 L162.74,352.54 L162.78,351.74 L162.82,350.94 L162.85,350.14 L162.89,349.34 L162.92,348.54 L162.96,347.74 L162.99,346.94 L163.02,346.14 L163.05,345.33 L163.09,344.53 L163.12,343.73 L163.15,342.93 L163.18,342.13 L163.22,341.33 L163.25,340.53 L163.28,339.73 L163.32,338.93 L163.35,338.13 L163.39,337.33 L163.42,336.52 L163.46,335.72 L163.49,334.92 L163.53,334.12 L163.56,333.32 L163.60,332.52 L163.63,331.72 L163.67,330.92 L163.70,330.12 L163.74,329.32 L163.78,328.51 L163.81,327.71 L163.85,326.91 L163.89,326.11 L163.92,325.31 L163.96,324.51 L164.00,323.71 L164.03,322.91 L164.07,322.11 L164.11,321.30 L164.14,320.50 L164.18,319.70 L164.22,318.90 L164.25,318.10 L164.29,317.30 L164.33,316.50 L164.37,315.70 L164.40,314.90 L164.44,314.09 L164.48,313.29 L164.51,312.49 L164.55,311.69 L164.59,310.89 L164.62,310.09 L164.66,309.29 L164.70,308.49 L164.73,307.69 L164.77,306.88 L164.80,306.08 L164.84,305.28 L164.87,304.48 L164.91,303.68 L164.94,302.88 L164.98,302.08 L165.01,301.28 L165.05,300.48 L165.08,299.67 L165.12,298.87 L165.15,298.07 L165.18,297.27 L165.22,296.47 L165.25,295.67 L165.28,294.87 L165.31,294.07 L165.35,293.26 L165.38,292.46 L165.41,291.66 L165.44,290.86 L165.47,290.06 L165.50,289.26 L165.53,288.46 L165.56,287.65 L165.59,286.85 L165.62,286.05 L165.65,285.25 L165.68,284.45 L165.70,283.65 L165.73,282.85 L165.76,282.05 L165.78,281.24 L165.81,280.44 L165.83,279.64 L165.86,278.84 L165.88,278.04 L165.91,277.24 L165.93,276.44 L165.95,275.63 L165.97,274.83 L166.00,274.03 L166.02,273.23 L166.04,272.43 L166.06,271.63 L166.08,270.83 L166.09,270.02 L166.11,269.22 L166.13,268.42 L166.15,267.62 L166.16,266.82 L166.18,266.02 L166.19,265.22 L166.21,264.41 L166.22,263.61 L166.23,262.81 L166.25,262.01 L166.26,261.21 L166.27,260.41 L166.28,259.61 L166.29,258.80 L166.30,258.00 L166.40,257.20 L166.40,257.20 L166.34,258.08 L166.36,258.87 L166.39,259.67 L166.42,260.47 L166.44,261.27 L166.47,262.06 L166.49,262.86 L166.52,263.66 L166.54,264.46 L166.57,265.26 L166.59,266.06 L166.61,266.86 L166.64,267.66 L166.66,268.46 L166.69,269.26 L166.71,270.06 L166.73,270.86 L166.76,271.66 L166.78,272.46 L166.80,273.26 L166.83,274.07 L166.85,274.87 L166.87,275.67 L166.89,276.47 L166.92,277.27 L166.94,278.08 L166.96,278.88 L166.98,279.68 L167.01,280.49 L167.03,281.29 L167.05,282.09 L167.07,282.90 L167.09,283.70 L167.11,284.51 L167.13,285.31 L167.16,286.11 L167.18,286.92 L167.20,287.72 L167.22,288.53 L167.24,289.33 L167.26,290.14 L167.28,290.94 L167.30,291.75 L167.32,292.55 L167.34,293.36 L167.36,294.17 L167.38,294.97 L167.40,295.78 L167.42,296.58 L167.44,297.39 L167.46,298.19 L167.48,299.00 L167.50,299.81 L167.52,300.61 L167.54,301.42 L167.56,302.23 L167.58,303.03 L167.60,303.84 L167.62,304.65 L167.64,305.45 L167.66,306.26 L167.68,307.07 L167.70,307.87 L167.71,308.68 L167.73,309.49 L167.75,310.29 L167.77,311.10 L167.79,311.91 L167.81,312.71 L167.83,313.52 L167.85,314.33 L167.87,315.13 L167.89,315.94 L167.90,316.75 L167.92,317.56 L167.94,318.36 L167.96,319.17 L167.98,319.98 L168.00,320.78 L168.02,321.59 L168.04,322.40 L168.05,323.20 L168.07,324.01 L168.09,324.81 L168.11,325.62 L168.13,326.43 L168.15,327.23 L168.17,328.04 L168.19,328.85 L168.21,329.65 L168.22,330.46 L168.24,331.26 L168.26,332.07 L168.28,332.87 L168.30,333.68 L168.32,334.49 L168.34,335.29 L168.36,336.10 L168.38,336.90 L168.39,337.71 L168.41,338.51 L168.43,339.31 L168.45,340.12 L168.47,340.92 L168.49,341.73 L168.51,342.53 L168.53,343.34 L168.55,344.14 L168.57,344.94 L168.59,345.75 L168.61,346.55 L168.63,347.35 L168.65,348.15 L168.67,348.96 L168.69,349.76 L168.71,350.56 L168.73,351.36 L168.75,352.17 L168.77,352.97 L168.79,353.77 L168.81,354.57 L168.83,355.37 L168.85,356.17 L168.87,356.97 L168.89,357.77 L168.91,358.57 L168.94,359.37 L168.96,360.17 L168.98,360.97 L169.00,361.77 L169.02,362.57 L169.04,363.37 L169.06,364.16 L169.09,364.96 L169.11,365.76 L169.13,366.56 L169.15,367.35 L169.17,368.15 L169.20,368.95 L169.22,369.74 L169.24,370.54 L169.26,371.34 L169.29,372.13 L169.31,372.93 L169.33,373.73 L169.35,374.52 L169.38,375.32 L169.40,376.12 L169.42,376.91 L169.44,377.71 L169.46,378.51 L169.48,379.31 L169.50,380.11 L169.53,380.91 L169.55,381.72 L169.56,382.52 L169.58,383.32 L169.60,384.13 L169.62,384.93 L169.64,385.74 L169.66,386.55 L169.67,387.36 L169.69,388.17 L169.70,388.98 L169.72,389.80 L169.73,390.61 L169.74,391.43 L169.76,392.25 L169.77,393.07 L169.78,393.90 L169.79,394.72 L169.80,395.55 L169.80,396.38 L169.81,397.21 L169.82,398.04 L169.82,398.88 L169.83,399.71 L169.84,400.55 L169.85,401.38 L169.86,402.22 L169.88,403.05 L169.91,403.89 L169.93,404.72 L169.97,405.54 L170.01,406.37 L170.06,407.19 L170.11,408.00 L170.18,408.81 L170.26,409.61 L170.34,410.41 L170.44,411.20 L170.55,411.99 L170.67,412.76 L170.81,413.53 L170.96,414.29 L171.13,415.04 L171.31,415.78 L171.51,416.51 L171.73,417.23 L171.96,417.93 L172.22,418.62 L172.49,419.31 L172.79,419.97 L173.10,420.63 L173.44,421.27 L173.81,421.88 L174.20,422.47 L174.63,423.02 L175.11,423.51 L175.63,423.95 L176.20,424.31 L176.82,424.60 L177.50,424.82 L178.22,424.98 L178.97,425.09 L179.75,425.15 L180.55,425.18 L181.37,425.18 L182.19,425.17 L183.02,425.15 L183.84,425.12 L184.67,425.08 L185.50,425.04 L186.33,424.99 L187.16,424.94 L187.99,424.89 L188.83,424.84 L189.66,424.79 L190.50,424.75 L191.34,424.71 L192.18,424.67 L193.02,424.64 L193.86,424.62 L194.70,424.61 L195.55,424.61 L196.39,424.63 L197.24,424.65 L198.08,424.69 L198.92,424.73 L199.74,424.76 L200.56,424.79 L201.35,424.81 L202.13,424.80 L202.87,424.77 L203.59,424.71 L204.28,424.62 L204.93,424.48 L205.53,424.30 L206.10,424.07 L206.61,423.78 L207.07,423.42 L207.48,423.00 L207.83,422.50 L208.11,421.93 L208.33,421.28 L208.50,420.57 L208.62,419.80 L208.70,418.98 L208.74,418.13 L208.75,417.25 L208.73,416.35 L208.70,415.43 L208.65,414.51 L208.59,413.60 L208.53,412.70 L208.70,412.10 L208.70,412.10 L208.82,412.76 L208.80,413.57 L208.76,414.41 L208.73,415.29 L208.70,416.18 L208.68,417.08 L208.68,417.98 L208.70,418.86 L208.76,419.72 L208.85,420.54 L208.99,421.30 L209.18,422.00 L209.43,422.63 L209.75,423.17 L210.14,423.62 L210.59,423.97 L211.12,424.24 L211.70,424.44 L212.33,424.58 L213.01,424.66 L213.74,424.70 L214.50,424.70 L215.29,424.68 L216.11,424.65 L216.95,424.60 L217.81,424.57 L218.67,424.55 L219.55,424.54 L220.42,424.56 L221.30,424.60 L222.19,424.65 L223.09,424.71 L223.98,424.78 L224.89,424.86 L225.80,424.95 L226.72,425.03 L227.63,425.10 L228.53,425.13 L229.38,425.12 L230.19,425.04 L230.94,424.88 L231.61,424.62 L232.21,424.28 L232.75,423.86 L233.23,423.37 L233.66,422.82 L234.05,422.22 L234.40,421.57 L234.71,420.88 L235.00,420.16 L235.26,419.42 L235.51,418.67 L235.75,417.92 L235.98,417.16 L236.20,416.41 L236.41,415.65 L236.62,414.88 L236.81,414.12 L237.00,413.35 L237.18,412.58 L237.35,411.81 L237.52,411.04 L237.67,410.27 L237.82,409.49 L237.97,408.71 L238.10,407.93 L238.23,407.15 L238.35,406.37 L238.47,405.58 L238.58,404.80 L238.68,404.01 L238.78,403.22 L238.88,402.43 L238.96,401.64 L239.04,400.85 L239.12,400.05 L239.19,399.26 L239.26,398.46 L239.32,397.66 L239.37,396.87 L239.43,396.07 L239.47,395.27 L239.52,394.46 L239.56,393.66 L239.59,392.86 L239.63,392.05 L239.65,391.25 L239.68,390.44 L239.70,389.64 L239.72,388.83 L239.74,388.02 L239.75,387.21 L239.76,386.40 L239.77,385.59 L239.77,384.78 L239.78,383.97 L239.78,383.16 L239.78,382.35 L239.78,381.54 L239.77,380.73 L239.77,379.92 L239.76,379.10 L239.76,378.29 L239.75,377.48 L239.74,376.67 L239.73,375.86 L239.73,375.04 L239.72,374.23 L239.71,373.42 L239.70,372.61 L239.69,371.80 L239.68,370.99 L239.67,370.17 L239.67,369.36 L239.66,368.55 L239.66,367.74 L239.65,366.93 L239.65,366.12 L239.64,365.31 L239.64,364.51 L239.64,363.70 L239.63,362.89 L239.63,362.08 L239.63,361.27 L239.63,360.47 L239.63,359.66 L239.63,358.85 L239.63,358.04 L239.63,357.24 L239.64,356.43 L239.64,355.63 L239.64,354.82 L239.64,354.01 L239.65,353.21 L239.65,352.40 L239.66,351.60 L239.66,350.79 L239.67,349.99 L239.67,349.18 L239.68,348.38 L239.68,347.58 L239.69,346.77 L239.70,345.97 L239.70,345.16 L239.71,344.36 L239.72,343.56 L239.73,342.75 L239.74,341.95 L239.74,341.15 L239.75,340.34 L239.76,339.54 L239.77,338.74 L239.78,337.94 L239.79,337.13 L239.80,336.33 L239.81,335.53 L239.82,334.73 L239.83,333.92 L239.84,333.12 L239.85,332.32 L239.86,331.52 L239.87,330.71 L239.88,329.91 L239.89,329.11 L239.90,328.31 L239.91,327.51 L239.92,326.70 L239.93,325.90 L239.95,325.10 L239.96,324.30 L239.97,323.50 L239.98,322.69 L239.99,321.89 L240.00,321.09 L240.01,320.29 L240.02,319.49 L240.03,318.68 L240.04,317.88 L240.05,317.08 L240.06,316.28 L240.07,315.48 L240.08,314.67 L240.09,313.87 L240.10,313.07 L240.11,312.27 L240.12,311.46 L240.13,310.66 L240.14,309.86 L240.15,309.05 L240.16,308.25 L240.17,307.45 L240.17,306.64 L240.18,305.84 L240.19,305.04 L240.20,304.23 L240.20,303.43 L240.21,302.63 L240.22,301.82 L240.22,301.02 L240.23,300.21 L240.23,299.41 L240.24,298.60 L240.24,297.80 L240.25,296.99 L240.25,296.19 L240.25,295.38 L240.26,294.58 L240.26,293.77 L240.26,292.96 L240.26,292.16 L240.26,291.35 L240.26,290.54 L240.26,289.73 L240.26,288.93 L240.26,288.12 L240.26,287.31 L240.26,286.50 L240.26,285.69 L240.25,284.89 L240.25,284.08 L240.24,283.27 L240.24,282.46 L240.23,281.65 L240.23,280.84 L240.22,280.03 L240.21,279.22 L240.21,278.40 L240.20,277.59 L240.19,276.78 L240.18,275.97 L240.17,275.16 L240.16,274.34 L240.14,273.53 L240.30,272.80 L240.30,272.80 L240.23,273.68 L240.25,274.47 L240.26,275.27 L240.27,276.07 L240.29,276.87 L240.30,277.66 L240.31,278.46 L240.32,279.26 L240.33,280.06 L240.34,280.86 L240.35,281.66 L240.36,282.46 L240.37,283.27 L240.38,284.07 L240.39,284.87 L240.40,285.67 L240.41,286.47 L240.42,287.28 L240.42,288.08 L240.43,288.88 L240.44,289.69 L240.44,290.49 L240.45,291.30 L240.45,292.10 L240.46,292.91 L240.47,293.71 L240.47,294.52 L240.47,295.33 L240.48,296.13 L240.48,296.94 L240.49,297.75 L240.49,298.55 L240.49,299.36 L240.50,300.17 L240.50,300.97 L240.50,301.78 L240.51,302.59 L240.51,303.40 L240.51,304.21 L240.51,305.01 L240.52,305.82 L240.52,306.63 L240.52,307.44 L240.52,308.25 L240.52,309.06 L240.52,309.87 L240.53,310.68 L240.53,311.49 L240.53,312.30 L240.53,313.11 L240.53,313.91 L240.53,314.72 L240.53,315.53 L240.53,316.34 L240.53,317.15 L240.53,317.96 L240.54,318.77 L240.54,319.58 L240.54,320.39 L240.54,321.20 L240.54,322.01 L240.54,322.82 L240.54,323.63 L240.54,324.44 L240.54,325.25 L240.55,326.06 L240.55,326.87 L240.55,327.68 L240.55,328.48 L240.55,329.29 L240.55,330.10 L240.56,330.91 L240.56,331.72 L240.56,332.53 L240.56,333.34 L240.56,334.14 L240.57,334.95 L240.57,335.76 L240.57,336.57 L240.58,337.37 L240.58,338.18 L240.58,338.99 L240.59,339.79 L240.59,340.60 L240.60,341.41 L240.60,342.21 L240.61,343.02 L240.61,343.82 L240.62,344.63 L240.62,345.43 L240.63,346.24 L240.63,347.04 L240.64,347.84 L240.65,348.65 L240.66,349.45 L240.66,350.25 L240.67,351.05 L240.68,351.86 L240.69,352.66 L240.70,353.46 L240.71,354.26 L240.72,355.06 L240.73,355.86 L240.74,356.66 L240.75,357.46 L240.76,358.26 L240.77,359.06 L240.78,359.86 L240.79,360.66 L240.81,361.46 L240.82,362.25 L240.83,363.05 L240.84,363.85 L240.86,364.65 L240.87,365.45 L240.88,366.25 L240.90,367.05 L240.91,367.85 L240.92,368.65 L240.93,369.45 L240.95,370.25 L240.96,371.05 L240.97,371.85 L240.99,372.65 L241.00,373.45 L241.01,374.25 L241.02,375.05 L241.04,375.86 L241.05,376.66 L241.06,377.47 L241.07,378.27 L241.08,379.08 L241.09,379.88 L241.11,380.69 L241.12,381.50 L241.13,382.31 L241.14,383.12 L241.15,383.93 L241.15,384.74 L241.16,385.55 L241.17,386.36 L241.18,387.18 L241.19,387.99 L241.19,388.81 L241.20,389.63 L241.21,390.45 L241.21,391.26 L241.21,392.09 L241.22,392.91 L241.22,393.73 L241.22,394.56 L241.23,395.38 L241.23,396.21 L241.23,397.04 L241.23,397.87 L241.23,398.70 L241.24,399.53 L241.24,400.36 L241.25,401.19 L241.26,402.02 L241.27,402.85 L241.28,403.67 L241.30,404.50 L241.32,405.32 L241.35,406.14 L241.38,406.96 L241.42,407.77 L241.46,408.58 L241.51,409.39 L241.57,410.20 L241.63,411.00 L241.70,411.79 L241.78,412.58 L241.86,413.37 L241.96,414.15 L242.06,414.92 L242.18,415.69 L242.30,416.45 L242.44,417.20 L242.60,417.93 L242.78,418.65 L242.98,419.34 L243.21,420.01 L243.46,420.66 L243.75,421.27 L244.07,421.85 L244.43,422.40 L244.82,422.90 L245.26,423.36 L245.75,423.78 L246.28,424.15 L246.86,424.47 L247.50,424.73 L248.19,424.93 L248.95,425.08 L249.76,425.16 L250.64,425.17 L251.58,425.11 L252.70,424.60" stroke="#4a4aff" stroke-width="1.45" stroke-dasharray="1.2 1.0"/>
</g>
<rect x="73" y="370.5" width="38" height="20.4" fill="#fff" stroke="#b0b0b0" stroke-width="1"/>
<line x1="73.9" y1="376.4" x2="92.5" y2="376.4" stroke="#ff1010" stroke-width="2"/>
<line x1="74.4" y1="386.1" x2="92" y2="386.1" stroke="#4a4aff" stroke-width="1.45" stroke-dasharray="1.2 1.0"/>
<text x="94.6" y="378.7" font-size="7.8" text-anchor="start" font-weight="bold" fill="#404040" stroke="none" textLength="15.2" lengthAdjust="spacingAndGlyphs">unit1</text>
<text x="94.6" y="388.6" font-size="7.8" text-anchor="start" font-weight="bold" fill="#404040" stroke="none" textLength="15.2" lengthAdjust="spacingAndGlyphs">unit2</text>
<g stroke="#262626" stroke-width="1.9" fill="none"><rect x="43.2" y="256.8" width="209.5" height="168.7" fill="none"/><line x1="43.2" y1="425.5" x2="43.2" y2="429"/><line x1="43.2" y1="256.8" x2="43.2" y2="259.8"/><line x1="85.1" y1="425.5" x2="85.1" y2="429"/><line x1="85.1" y1="256.8" x2="85.1" y2="259.8"/><line x1="127" y1="425.5" x2="127" y2="429"/><line x1="127" y1="256.8" x2="127" y2="259.8"/><line x1="168.9" y1="425.5" x2="168.9" y2="429"/><line x1="168.9" y1="256.8" x2="168.9" y2="259.8"/><line x1="210.8" y1="425.5" x2="210.8" y2="429"/><line x1="210.8" y1="256.8" x2="210.8" y2="259.8"/><line x1="252.7" y1="425.5" x2="252.7" y2="429"/><line x1="252.7" y1="256.8" x2="252.7" y2="259.8"/><line x1="64.15" y1="425.5" x2="64.15" y2="427.5"/><line x1="64.15" y1="256.8" x2="64.15" y2="258.8"/><line x1="106.05" y1="425.5" x2="106.05" y2="427.5"/><line x1="106.05" y1="256.8" x2="106.05" y2="258.8"/><line x1="147.95" y1="425.5" x2="147.95" y2="427.5"/><line x1="147.95" y1="256.8" x2="147.95" y2="258.8"/><line x1="189.85" y1="425.5" x2="189.85" y2="427.5"/><line x1="189.85" y1="256.8" x2="189.85" y2="258.8"/><line x1="231.75" y1="425.5" x2="231.75" y2="427.5"/><line x1="231.75" y1="256.8" x2="231.75" y2="258.8"/><line x1="39.7" y1="425.5" x2="43.2" y2="425.5"/><line x1="252.7" y1="425.5" x2="249.7" y2="425.5"/><line x1="39.7" y1="391.76" x2="43.2" y2="391.76"/><line x1="252.7" y1="391.76" x2="249.7" y2="391.76"/><line x1="39.7" y1="358.02" x2="43.2" y2="358.02"/><line x1="252.7" y1="358.02" x2="249.7" y2="358.02"/><line x1="39.7" y1="324.28" x2="43.2" y2="324.28"/><line x1="252.7" y1="324.28" x2="249.7" y2="324.28"/><line x1="39.7" y1="290.54" x2="43.2" y2="290.54"/><line x1="252.7" y1="290.54" x2="249.7" y2="290.54"/><line x1="39.7" y1="256.8" x2="43.2" y2="256.8"/><line x1="252.7" y1="256.8" x2="249.7" y2="256.8"/><line x1="41.2" y1="408.63" x2="43.2" y2="408.63"/><line x1="252.7" y1="408.63" x2="250.7" y2="408.63"/><line x1="41.2" y1="374.89" x2="43.2" y2="374.89"/><line x1="252.7" y1="374.89" x2="250.7" y2="374.89"/><line x1="41.2" y1="341.15" x2="43.2" y2="341.15"/><line x1="252.7" y1="341.15" x2="250.7" y2="341.15"/><line x1="41.2" y1="307.41" x2="43.2" y2="307.41"/><line x1="252.7" y1="307.41" x2="250.7" y2="307.41"/><line x1="41.2" y1="273.67" x2="43.2" y2="273.67"/><line x1="252.7" y1="273.67" x2="250.7" y2="273.67"/></g>
<text x="37.6" y="428.1" font-size="7.6" text-anchor="end" font-weight="bold" fill="#222"  stroke="#222" stroke-width="0.22">0.0</text>
<text x="37.6" y="394.36" font-size="7.6" text-anchor="end" font-weight="bold" fill="#222"  stroke="#222" stroke-width="0.22">0.2</text>
<text x="37.6" y="360.62" font-size="7.6" text-anchor="end" font-weight="bold" fill="#222"  stroke="#222" stroke-width="0.22">0.4</text>
<text x="37.6" y="326.88" font-size="7.6" text-anchor="end" font-weight="bold" fill="#222"  stroke="#222" stroke-width="0.22">0.6</text>
<text x="37.6" y="293.14" font-size="7.6" text-anchor="end" font-weight="bold" fill="#222"  stroke="#222" stroke-width="0.22">0.8</text>
<text x="37.6" y="259.4" font-size="7.6" text-anchor="end" font-weight="bold" fill="#222"  stroke="#222" stroke-width="0.22">1.0</text>
<text x="43.2" y="437.6" font-size="7.6" text-anchor="middle" font-weight="bold" fill="#222"  stroke="#222" stroke-width="0.22">5</text>
<text x="85.1" y="437.6" font-size="7.6" text-anchor="middle" font-weight="bold" fill="#222"  stroke="#222" stroke-width="0.22">10</text>
<text x="127" y="437.6" font-size="7.6" text-anchor="middle" font-weight="bold" fill="#222"  stroke="#222" stroke-width="0.22">15</text>
<text x="168.9" y="437.6" font-size="7.6" text-anchor="middle" font-weight="bold" fill="#222"  stroke="#222" stroke-width="0.22">20</text>
<text x="210.8" y="437.6" font-size="7.6" text-anchor="middle" font-weight="bold" fill="#222"  stroke="#222" stroke-width="0.22">25</text>
<text x="252.7" y="437.6" font-size="7.6" text-anchor="middle" font-weight="bold" fill="#222"  stroke="#222" stroke-width="0.22">30</text>
<text x="148.2" y="451.8" font-size="9.6" text-anchor="middle" font-weight="normal" fill="#333" textLength="62" lengthAdjust="spacingAndGlyphs" stroke="#333" stroke-width="0.22">Frequency (GHz)</text>
<text transform="translate(18.2,336) rotate(-90)" x="0" y="0" font-size="9" text-anchor="middle" fill="#333" textLength="15.7" lengthAdjust="spacingAndGlyphs" stroke="#333" stroke-width="0.22">PCR</text>
<text x="7" y="231.3" font-size="16.5" text-anchor="start" font-weight="normal" fill="#222"  stroke="#222" stroke-width="0.22">(c)</text>
<line x1="327.5" y1="375.5" x2="538.7" y2="375.5" stroke="#1a1a1a" stroke-width="1.2"/>
<g fill="none" stroke="#ff1010" stroke-width="2" stroke-linejoin="miter" clip-path="url(#cd)">
<path d="M400.90,256.00 L400.96,256.80 L401.03,257.60 L401.10,258.40 L401.18,259.20 L401.25,260.01 L401.32,260.81 L401.39,261.61 L401.47,262.41 L401.54,263.21 L401.61,264.01 L401.68,264.81 L401.76,265.61 L401.83,266.41 L401.90,267.21 L401.97,268.01 L402.04,268.81 L402.12,269.62 L402.19,270.42 L402.26,271.22 L402.33,272.02 L402.41,272.82 L402.48,273.62 L402.55,274.42 L402.62,275.22 L402.69,276.02 L402.76,276.82 L402.84,277.62 L402.91,278.43 L402.98,279.23 L403.05,280.03 L403.12,280.83 L403.20,281.63 L403.27,282.43 L403.34,283.23 L403.41,284.03 L403.48,284.83 L403.55,285.63 L403.63,286.43 L403.70,287.24 L403.77,288.04 L403.84,288.84 L403.91,289.64 L403.98,290.44 L404.06,291.24 L404.13,292.04 L404.20,292.84 L404.27,293.64 L404.34,294.44 L404.41,295.24 L404.48,296.05 L404.56,296.85 L404.63,297.65 L404.70,298.45 L404.77,299.25 L404.84,300.05 L404.91,300.85 L404.98,301.65 L405.05,302.45 L405.13,303.25 L405.20,304.05 L405.27,304.86 L405.34,305.66 L405.41,306.46 L405.48,307.26 L405.55,308.06 L405.62,308.86 L405.70,309.66 L405.77,310.46 L405.84,311.26 L405.91,312.06 L405.98,312.87 L406.05,313.67 L406.12,314.47 L406.19,315.27 L406.26,316.07 L406.33,316.87 L406.41,317.67 L406.48,318.47 L406.55,319.27 L406.62,320.07 L406.69,320.87 L406.76,321.68 L406.83,322.48 L406.90,323.28 L406.97,324.08 L407.04,324.88 L407.11,325.68 L407.19,326.48 L407.26,327.28 L407.33,328.08 L407.40,328.88 L407.47,329.69 L407.54,330.49 L407.61,331.29 L407.68,332.09 L407.75,332.89 L407.82,333.69 L407.89,334.49 L407.96,335.29 L408.04,336.09 L408.11,336.89 L408.18,337.70 L408.25,338.50 L408.32,339.30 L408.39,340.10 L408.46,340.90 L408.53,341.70 L408.60,342.50 L408.67,343.30 L408.74,344.10 L408.81,344.90 L408.88,345.71 L408.96,346.51 L409.03,347.31 L409.10,348.11 L409.17,348.91 L409.24,349.71 L409.31,350.51 L409.38,351.31 L409.45,352.11 L409.52,352.91 L409.59,353.71 L409.66,354.52 L409.73,355.32 L409.80,356.12 L409.87,356.92 L409.95,357.72 L410.02,358.52 L410.09,359.32 L410.16,360.12 L410.23,360.92 L410.30,361.72 L410.37,362.53 L410.44,363.33 L410.51,364.13 L410.58,364.93 L410.65,365.73 L410.72,366.53 L410.79,367.33 L410.87,368.13 L410.94,368.93 L411.01,369.73 L411.08,370.54 L411.15,371.34 L411.22,372.14 L411.29,372.94 L411.36,373.74 L411.43,374.54 L411.50,375.34 L411.57,376.14 L411.64,376.94 L411.72,377.74 L411.79,378.55 L411.86,379.35 L411.93,380.15 L412.00,380.95 L412.07,381.75 L412.14,382.55 L412.21,383.35 L412.28,384.15 L412.35,384.95 L412.43,385.75 L412.50,386.55 L412.57,387.36 L412.64,388.16 L412.71,388.96 L412.78,389.76 L412.85,390.56 L412.92,391.36 L412.99,392.16 L413.07,392.96 L413.14,393.76 L413.21,394.56 L413.28,395.37 L413.35,396.17 L413.42,396.97 L413.49,397.77 L413.56,398.57 L413.63,399.37 L413.71,400.17 L413.78,400.97 L413.85,401.77 L413.92,402.57 L413.99,403.37 L414.06,404.18 L414.13,404.98 L414.21,405.78 L414.28,406.58 L414.35,407.38 L414.42,408.18 L414.49,408.98 L414.56,409.78 L414.63,410.58 L414.71,411.38 L414.78,412.18 L414.85,412.99 L414.92,413.79 L414.99,414.59 L415.06,415.39 L415.14,416.19 L415.21,416.99 L415.28,417.79 L415.35,418.59 L415.42,419.39 L415.50,420.19 L415.57,420.99 L415.64,421.80 L415.71,422.60 L415.78,423.40 L415.85,424.20 L415.93,425.00 L416.00,425.80 L416.00,425.80 L415.98,424.99 L416.02,424.18 L416.06,423.38 L416.10,422.57 L416.14,421.77 L416.18,420.96 L416.22,420.16 L416.26,419.35 L416.30,418.55 L416.34,417.74 L416.38,416.93 L416.43,416.13 L416.47,415.32 L416.51,414.52 L416.56,413.71 L416.60,412.91 L416.65,412.10 L416.69,411.30 L416.74,410.49 L416.79,409.69 L416.83,408.88 L416.88,408.08 L416.93,407.27 L416.98,406.47 L417.03,405.66 L417.07,404.86 L417.12,404.05 L417.17,403.25 L417.22,402.44 L417.27,401.64 L417.32,400.83 L417.38,400.03 L417.43,399.23 L417.48,398.42 L417.53,397.62 L417.58,396.81 L417.64,396.01 L417.69,395.20 L417.74,394.40 L417.80,393.59 L417.85,392.79 L417.91,391.98 L417.96,391.18 L418.01,390.38 L418.07,389.57 L418.13,388.77 L418.18,387.96 L418.24,387.16 L418.29,386.35 L418.35,385.55 L418.41,384.75 L418.46,383.94 L418.52,383.14 L418.58,382.33 L418.64,381.53 L418.69,380.72 L418.75,379.92 L418.81,379.12 L418.87,378.31 L418.93,377.51 L418.98,376.70 L419.04,375.90 L419.10,375.10 L419.16,374.29 L419.22,373.49 L419.28,372.68 L419.34,371.88 L419.40,371.08 L419.46,370.27 L419.52,369.47 L419.58,368.66 L419.64,367.86 L419.70,367.06 L419.76,366.25 L419.82,365.45 L419.88,364.64 L419.94,363.84 L420.00,363.04 L420.06,362.23 L420.12,361.43 L420.19,360.62 L420.25,359.82 L420.31,359.02 L420.37,358.21 L420.43,357.41 L420.49,356.60 L420.55,355.80 L420.61,355.00 L420.67,354.19 L420.74,353.39 L420.80,352.58 L420.86,351.78 L420.92,350.98 L420.98,350.17 L421.04,349.37 L421.10,348.57 L421.16,347.76 L421.22,346.96 L421.28,346.15 L421.35,345.35 L421.41,344.55 L421.47,343.74 L421.53,342.94 L421.59,342.13 L421.65,341.33 L421.71,340.53 L421.77,339.72 L421.83,338.92 L421.89,338.11 L421.95,337.31 L422.01,336.51 L422.07,335.70 L422.13,334.90 L422.19,334.09 L422.25,333.29 L422.30,332.49 L422.36,331.68 L422.42,330.88 L422.48,330.07 L422.54,329.27 L422.60,328.46 L422.65,327.66 L422.71,326.86 L422.77,326.05 L422.83,325.25 L422.88,324.44 L422.94,323.64 L423.00,322.84 L423.05,322.03 L423.11,321.23 L423.16,320.42 L423.22,319.62 L423.28,318.81 L423.33,318.01 L423.39,317.21 L423.44,316.40 L423.49,315.60 L423.55,314.79 L423.60,313.99 L423.65,313.18 L423.71,312.38 L423.76,311.57 L423.81,310.77 L423.86,309.96 L423.92,309.16 L423.97,308.36 L424.02,307.55 L424.07,306.75 L424.12,305.94 L424.17,305.14 L424.22,304.33 L424.27,303.53 L424.32,302.72 L424.36,301.92 L424.41,301.11 L424.46,300.31 L424.51,299.50 L424.55,298.70 L424.60,297.89 L424.65,297.09 L424.69,296.28 L424.74,295.48 L424.78,294.67 L424.82,293.87 L424.87,293.06 L424.91,292.26 L424.95,291.45 L425.00,290.65 L425.04,289.84 L425.08,289.03 L425.12,288.23 L425.16,287.42 L425.20,286.62 L425.24,285.81 L425.28,285.01 L425.31,284.20 L425.35,283.40 L425.39,282.59 L425.43,281.78 L425.46,280.98 L425.50,280.17 L425.53,279.37 L425.57,278.56 L425.60,277.75 L425.63,276.95 L425.67,276.14 L425.70,275.34 L425.73,274.53 L425.76,273.72 L425.79,272.92 L425.82,272.11 L425.85,271.31 L425.88,270.50 L425.90,269.69 L425.93,268.89 L425.96,268.08 L425.98,267.27 L426.01,266.47 L426.03,265.66 L426.06,264.85 L426.08,264.05 L426.10,263.24 L426.12,262.43 L426.14,261.63 L426.16,260.82 L426.18,260.01 L426.20,259.20 L426.22,258.40 L426.24,257.59 L426.25,256.78 L426.60,256.00"/>
<path d="M471.60,256.00 L471.70,256.80 L471.78,257.61 L471.87,258.41 L471.95,259.21 L472.03,260.01 L472.11,260.81 L472.20,261.61 L472.28,262.42 L472.36,263.22 L472.44,264.02 L472.52,264.82 L472.61,265.62 L472.69,266.43 L472.77,267.23 L472.86,268.03 L472.94,268.83 L473.02,269.63 L473.10,270.44 L473.19,271.24 L473.27,272.04 L473.35,272.84 L473.44,273.65 L473.52,274.45 L473.60,275.25 L473.68,276.05 L473.77,276.85 L473.85,277.66 L473.94,278.46 L474.02,279.26 L474.10,280.06 L474.19,280.86 L474.27,281.67 L474.35,282.47 L474.44,283.27 L474.52,284.07 L474.61,284.87 L474.69,285.68 L474.78,286.48 L474.86,287.28 L474.95,288.08 L475.03,288.88 L475.12,289.68 L475.20,290.49 L475.29,291.29 L475.37,292.09 L475.46,292.89 L475.55,293.69 L475.63,294.50 L475.72,295.30 L475.80,296.10 L475.89,296.90 L475.98,297.70 L476.06,298.51 L476.15,299.31 L476.24,300.11 L476.33,300.91 L476.41,301.71 L476.50,302.51 L476.59,303.32 L476.68,304.12 L476.77,304.92 L476.86,305.72 L476.94,306.52 L477.03,307.32 L477.12,308.13 L477.21,308.93 L477.30,309.73 L477.39,310.53 L477.48,311.33 L477.57,312.13 L477.66,312.93 L477.75,313.74 L477.84,314.54 L477.94,315.34 L478.03,316.14 L478.12,316.94 L478.21,317.74 L478.30,318.54 L478.40,319.34 L478.49,320.15 L478.58,320.95 L478.68,321.75 L478.77,322.55 L478.86,323.35 L478.96,324.15 L479.05,324.95 L479.15,325.75 L479.24,326.55 L479.34,327.35 L479.43,328.15 L479.53,328.96 L479.62,329.76 L479.72,330.56 L479.82,331.36 L479.91,332.16 L480.01,332.96 L480.11,333.76 L480.21,334.56 L480.31,335.36 L480.40,336.16 L480.50,336.96 L480.60,337.76 L480.70,338.56 L480.80,339.36 L480.90,340.16 L481.00,340.96 L481.10,341.76 L481.21,342.56 L481.31,343.36 L481.41,344.16 L481.51,344.96 L481.62,345.76 L481.72,346.56 L481.82,347.36 L481.93,348.16 L482.03,348.96 L482.13,349.76 L482.24,350.56 L482.35,351.36 L482.45,352.16 L482.56,352.96 L482.66,353.76 L482.77,354.56 L482.88,355.35 L482.99,356.15 L483.09,356.95 L483.20,357.75 L483.31,358.55 L483.42,359.35 L483.53,360.15 L483.64,360.95 L483.75,361.75 L483.86,362.54 L483.97,363.34 L484.09,364.14 L484.20,364.94 L484.31,365.74 L484.43,366.54 L484.54,367.34 L484.65,368.13 L484.77,368.93 L484.88,369.73 L485.00,370.53 L485.11,371.33 L485.23,372.12 L485.35,372.92 L485.47,373.72 L485.58,374.52 L485.70,375.31 L485.82,376.11 L485.94,376.91 L486.06,377.71 L486.18,378.50 L486.30,379.30 L486.42,380.10 L486.54,380.89 L486.67,381.69 L486.79,382.49 L486.91,383.29 L487.04,384.08 L487.16,384.88 L487.29,385.68 L487.41,386.47 L487.54,387.27 L487.66,388.07 L487.79,388.86 L487.92,389.66 L488.05,390.45 L488.18,391.25 L488.31,392.05 L488.43,392.84 L488.57,393.64 L488.70,394.43 L488.83,395.23 L488.96,396.02 L489.09,396.82 L489.23,397.61 L489.36,398.41 L489.49,399.21 L489.63,400.00 L489.76,400.80 L489.90,401.59 L490.04,402.39 L490.17,403.18 L490.31,403.97 L490.45,404.77 L490.59,405.56 L490.73,406.36 L490.87,407.15 L491.01,407.95 L491.15,408.74 L491.29,409.53 L491.43,410.33 L491.58,411.12 L491.72,411.92 L491.87,412.71 L492.01,413.50 L492.16,414.30 L492.30,415.09 L492.45,415.88 L492.60,416.68 L492.75,417.47 L492.90,418.26 L493.05,419.05 L493.20,419.85 L493.35,420.64 L493.50,421.43 L493.65,422.22 L493.80,423.02 L493.96,423.81 L494.11,424.60 L494.20,425.40 L494.20,425.40 L494.69,424.69 L494.83,423.90 L494.98,423.10 L495.13,422.31 L495.28,421.52 L495.43,420.72 L495.58,419.93 L495.74,419.14 L495.89,418.35 L496.05,417.55 L496.20,416.76 L496.36,415.97 L496.52,415.18 L496.68,414.39 L496.84,413.60 L497.00,412.81 L497.17,412.02 L497.33,411.23 L497.50,410.44 L497.66,409.65 L497.83,408.86 L498.00,408.07 L498.17,407.28 L498.34,406.50 L498.51,405.71 L498.68,404.92 L498.86,404.13 L499.03,403.35 L499.20,402.56 L499.38,401.77 L499.56,400.99 L499.74,400.20 L499.91,399.41 L500.09,398.63 L500.28,397.84 L500.46,397.06 L500.64,396.27 L500.82,395.49 L501.01,394.70 L501.19,393.92 L501.38,393.13 L501.56,392.35 L501.75,391.57 L501.94,390.78 L502.13,390.00 L502.32,389.22 L502.51,388.43 L502.70,387.65 L502.89,386.87 L503.08,386.08 L503.28,385.30 L503.47,384.52 L503.67,383.74 L503.86,382.96 L504.06,382.18 L504.26,381.39 L504.45,380.61 L504.65,379.83 L504.85,379.05 L505.05,378.27 L505.25,377.49 L505.45,376.71 L505.65,375.93 L505.86,375.15 L506.06,374.37 L506.26,373.59 L506.47,372.81 L506.67,372.03 L506.88,371.25 L507.08,370.47 L507.29,369.69 L507.50,368.92 L507.70,368.14 L507.91,367.36 L508.12,366.58 L508.33,365.80 L508.54,365.02 L508.75,364.25 L508.96,363.47 L509.17,362.69 L509.38,361.91 L509.59,361.13 L509.80,360.36 L510.01,359.58 L510.23,358.80 L510.44,358.03 L510.65,357.25 L510.87,356.47 L511.08,355.69 L511.30,354.92 L511.51,354.14 L511.73,353.36 L511.94,352.59 L512.16,351.81 L512.38,351.04 L512.59,350.26 L512.81,349.48 L513.03,348.71 L513.25,347.93 L513.46,347.15 L513.68,346.38 L513.90,345.60 L514.12,344.83 L514.34,344.05 L514.56,343.28 L514.78,342.50 L514.99,341.72 L515.21,340.95 L515.43,340.17 L515.65,339.40 L515.87,338.62 L516.10,337.85 L516.32,337.07 L516.54,336.30 L516.76,335.52 L516.98,334.75 L517.20,333.97 L517.42,333.20 L517.64,332.42 L517.86,331.65 L518.08,330.87 L518.31,330.10 L518.53,329.32 L518.75,328.55 L518.97,327.77 L519.19,327.00 L519.41,326.22 L519.63,325.44 L519.86,324.67 L520.08,323.89 L520.30,323.12 L520.52,322.34 L520.74,321.57 L520.96,320.79 L521.18,320.02 L521.41,319.24 L521.63,318.47 L521.85,317.69 L522.07,316.92 L522.29,316.14 L522.51,315.37 L522.73,314.59 L522.95,313.82 L523.17,313.04 L523.39,312.27 L523.61,311.49 L523.83,310.71 L524.05,309.94 L524.27,309.16 L524.49,308.39 L524.71,307.61 L524.93,306.84 L525.15,306.06 L525.37,305.28 L525.58,304.51 L525.80,303.73 L526.02,302.96 L526.24,302.18 L526.45,301.40 L526.67,300.63 L526.89,299.85 L527.10,299.07 L527.32,298.30 L527.53,297.52 L527.75,296.74 L527.96,295.97 L528.18,295.19 L528.39,294.41 L528.61,293.63 L528.82,292.86 L529.03,292.08 L529.24,291.30 L529.46,290.52 L529.67,289.75 L529.88,288.97 L530.09,288.19 L530.30,287.41 L530.51,286.63 L530.72,285.85 L530.93,285.08 L531.13,284.30 L531.34,283.52 L531.55,282.74 L531.76,281.96 L531.96,281.18 L532.17,280.40 L532.37,279.62 L532.58,278.84 L532.78,278.06 L532.98,277.28 L533.19,276.50 L533.39,275.72 L533.59,274.94 L533.79,274.16 L533.99,273.38 L534.19,272.60 L534.39,271.82 L534.59,271.04 L534.79,270.25 L534.98,269.47 L535.18,268.69 L535.38,267.91 L535.57,267.13 L535.76,266.34 L535.96,265.56 L536.15,264.78 L536.34,263.99 L536.53,263.21 L536.72,262.43 L536.91,261.64 L537.10,260.86 L537.29,260.08 L537.48,259.29 L537.66,258.51 L537.85,257.72 L538.03,256.94 L538.40,256.20"/>
</g>
<g fill="none" stroke="#2a2aff" stroke-width="1.8" stroke-dasharray="1.5 1.5" clip-path="url(#cd)">
<path d="M337.2,255 L338.9,300 L340.7,345 L341.8,390 L342.7,418.2 L343.2,390 L343.7,345 L344.1,300 L344.6,255"/>
<path d="M347.6,255 L348.8,300 L350.1,345 L352.2,395 L354.2,424.5 L357.5,406.3 L359.5,397 L361.9,393.2 L364.3,394.5 L366.2,397.5 L368.6,404 L370.6,412.8 L372.3,423.5 L375.3,400 L378.2,375.8 L380.2,345 L382.4,300 L384.7,255"/>
<path d="M394.5,255 L396.5,300 L398.4,345 L401.5,390 L404.5,424.3 L407.5,400.8 L411.4,375.3 L415.3,356.5 L420,337 L424.9,319.5 L429,312.2 L434,309.2 L438.4,313 L441.2,324.4 L443.2,345 L445.6,374.4 L447.9,398 L449,423 L449.6,390 L450.2,345 L450.7,300 L451.1,255"/>
<path d="M452.6,255 L452.9,300 L453.1,345 L453.6,412.6 L454.1,345 L454.4,300 L454.8,255"/>
<path d="M524.9,255 L525.3,300 L525.7,340 L526.1,373.2"/>
<path stroke-dashoffset="1.5" d="M527.3,255 L526.9,300 L526.5,340 L526.1,373.2"/>
</g>
<rect x="478.3" y="272.6" width="39.3" height="20.5" fill="#fff" stroke="#b0b0b0" stroke-width="1"/>
<line x1="479" y1="277.6" x2="498.1" y2="277.6" stroke="#ff1010" stroke-width="2"/>
<line x1="479" y1="287.8" x2="496.5" y2="287.8" stroke="#2a2aff" stroke-width="1.8" stroke-dasharray="1.6 1.6"/>
<text x="500" y="280.6" font-size="7.8" text-anchor="start" font-weight="bold" fill="#404040" stroke="none" textLength="15" lengthAdjust="spacingAndGlyphs">unit1</text>
<text x="500" y="290.6" font-size="7.8" text-anchor="start" font-weight="bold" fill="#404040" stroke="none" textLength="15.4" lengthAdjust="spacingAndGlyphs">unit2</text>
<g stroke="#262626" stroke-width="1.9" fill="none"><rect x="327.5" y="256.6" width="211.2" height="170" fill="none"/><line x1="327.5" y1="426.6" x2="327.5" y2="430.1"/><line x1="327.5" y1="256.6" x2="327.5" y2="259.6"/><line x1="369.74" y1="426.6" x2="369.74" y2="430.1"/><line x1="369.74" y1="256.6" x2="369.74" y2="259.6"/><line x1="411.98" y1="426.6" x2="411.98" y2="430.1"/><line x1="411.98" y1="256.6" x2="411.98" y2="259.6"/><line x1="454.22" y1="426.6" x2="454.22" y2="430.1"/><line x1="454.22" y1="256.6" x2="454.22" y2="259.6"/><line x1="496.46" y1="426.6" x2="496.46" y2="430.1"/><line x1="496.46" y1="256.6" x2="496.46" y2="259.6"/><line x1="538.7" y1="426.6" x2="538.7" y2="430.1"/><line x1="538.7" y1="256.6" x2="538.7" y2="259.6"/><line x1="348.62" y1="426.6" x2="348.62" y2="428.6"/><line x1="348.62" y1="256.6" x2="348.62" y2="258.6"/><line x1="390.86" y1="426.6" x2="390.86" y2="428.6"/><line x1="390.86" y1="256.6" x2="390.86" y2="258.6"/><line x1="433.1" y1="426.6" x2="433.1" y2="428.6"/><line x1="433.1" y1="256.6" x2="433.1" y2="258.6"/><line x1="475.34" y1="426.6" x2="475.34" y2="428.6"/><line x1="475.34" y1="256.6" x2="475.34" y2="258.6"/><line x1="517.58" y1="426.6" x2="517.58" y2="428.6"/><line x1="517.58" y1="256.6" x2="517.58" y2="258.6"/><line x1="324" y1="426.6" x2="327.5" y2="426.6"/><line x1="538.7" y1="426.6" x2="535.7" y2="426.6"/><line x1="324" y1="341.6" x2="327.5" y2="341.6"/><line x1="538.7" y1="341.6" x2="535.7" y2="341.6"/><line x1="324" y1="256.6" x2="327.5" y2="256.6"/><line x1="538.7" y1="256.6" x2="535.7" y2="256.6"/><line x1="325.5" y1="384.1" x2="327.5" y2="384.1"/><line x1="538.7" y1="384.1" x2="536.7" y2="384.1"/><line x1="325.5" y1="299.1" x2="327.5" y2="299.1"/><line x1="538.7" y1="299.1" x2="536.7" y2="299.1"/></g>
<text x="322.1" y="428.8" font-size="6.7" text-anchor="end" font-weight="normal" fill="#444"  stroke="#444" stroke-width="0.22">0</text>
<text x="322.1" y="343.8" font-size="6.7" text-anchor="end" font-weight="normal" fill="#444"  stroke="#444" stroke-width="0.22">5</text>
<text x="322.1" y="258.8" font-size="6.7" text-anchor="end" font-weight="normal" fill="#444"  stroke="#444" stroke-width="0.22">10</text>
<text x="323.8" y="378.8" font-size="8.8" text-anchor="end" font-weight="normal" fill="#ff2020" stroke="none">3</text>
<text x="327.5" y="438" font-size="7.6" text-anchor="middle" font-weight="normal" fill="#333"  stroke="#333" stroke-width="0.22">5</text>
<text x="369.74" y="438" font-size="7.6" text-anchor="middle" font-weight="normal" fill="#333"  stroke="#333" stroke-width="0.22">10</text>
<text x="411.98" y="438" font-size="7.6" text-anchor="middle" font-weight="normal" fill="#333"  stroke="#333" stroke-width="0.22">15</text>
<text x="454.22" y="438" font-size="7.6" text-anchor="middle" font-weight="normal" fill="#333"  stroke="#333" stroke-width="0.22">20</text>
<text x="496.46" y="438" font-size="7.6" text-anchor="middle" font-weight="normal" fill="#333"  stroke="#333" stroke-width="0.22">25</text>
<text x="538.7" y="438" font-size="7.6" text-anchor="middle" font-weight="normal" fill="#333"  stroke="#333" stroke-width="0.22">30</text>
<text x="433.4" y="452" font-size="9.6" text-anchor="middle" font-weight="normal" fill="#333" textLength="62" lengthAdjust="spacingAndGlyphs" stroke="#333" stroke-width="0.22">Frequency (GHz)</text>
<text transform="translate(304.4,334.6) rotate(-90)" x="0" y="0" font-size="9.2" text-anchor="middle" fill="#333" textLength="58.4" lengthAdjust="spacingAndGlyphs" stroke="#333" stroke-width="0.22">Axial Ratio (dB)</text>
<text x="298.4" y="231.3" font-size="16.5" text-anchor="start" font-weight="normal" fill="#222"  stroke="#222" stroke-width="0.22">(d)</text>
</svg>
</body></html>
